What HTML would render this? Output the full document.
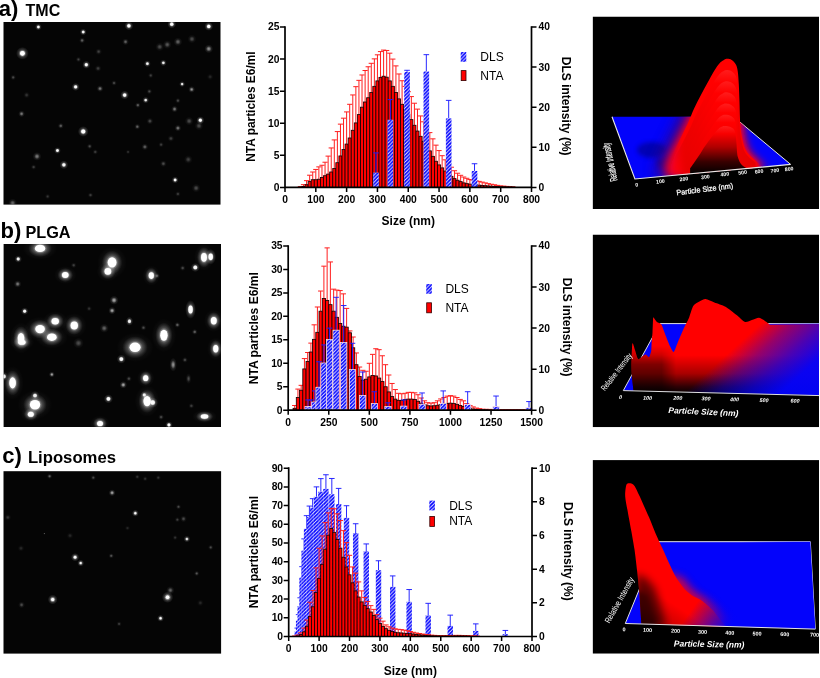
<!DOCTYPE html>
<html lang="en"><head><meta charset="utf-8"><title>NTA vs DLS particle sizing</title>
<style>html,body{margin:0;padding:0;background:#fff}body{width:820px;height:678px;overflow:hidden}</style>
</head><body>
<svg width="820" height="678" viewBox="0 0 820 678" style="display:block">
<defs>
<pattern id="hatch" patternUnits="userSpaceOnUse" width="3.6" height="3.6"><path d="M-0.9 0.9L0.9 -0.9M0 3.6L3.6 0M2.7 4.5L4.5 2.7" stroke="#0000ff" stroke-width="1.75" fill="none"/></pattern>
<radialGradient id="glow"><stop offset="0" stop-color="#fff" stop-opacity="1"/><stop offset="0.25" stop-color="#fff" stop-opacity="0.75"/><stop offset="0.6" stop-color="#fff" stop-opacity="0.18"/><stop offset="1" stop-color="#fff" stop-opacity="0"/></radialGradient>
<filter id="b1" x="-50%" y="-50%" width="200%" height="200%"><feGaussianBlur stdDeviation="0.45"/></filter>
<filter id="b2" x="-20%" y="-20%" width="140%" height="140%"><feGaussianBlur stdDeviation="2.2"/></filter>
<filter id="b3" x="-20%" y="-20%" width="140%" height="140%"><feGaussianBlur stdDeviation="4"/></filter>
<filter id="b05" x="-20%" y="-20%" width="140%" height="140%"><feGaussianBlur stdDeviation="0.5"/></filter>
<clipPath id="clip-a"><rect x="3.5" y="22" width="217" height="182.6"/></clipPath>
<clipPath id="clip-b"><rect x="3.6" y="244" width="217.4" height="183"/></clipPath>
<clipPath id="clip-c"><rect x="3.5" y="471.2" width="217.6" height="182.4"/></clipPath>
<clipPath id="clip-3a"><rect x="592.6" y="16.5" width="226.4" height="192.6"/></clipPath>
<clipPath id="clip-3b"><rect x="592.6" y="234.5" width="226.4" height="192.7"/></clipPath>
<clipPath id="clip-3c"><rect x="592.6" y="460.1" width="226.4" height="193.6"/></clipPath>
<linearGradient id="gA" gradientUnits="userSpaceOnUse" x1="0" y1="58" x2="0" y2="176"><stop offset="0" stop-color="#ff0000"/><stop offset="0.5" stop-color="#ff0000"/><stop offset="0.72" stop-color="#c00000"/><stop offset="0.9" stop-color="#400008"/><stop offset="1" stop-color="#080004"/></linearGradient>
<linearGradient id="gB" gradientUnits="userSpaceOnUse" x1="0" y1="300" x2="0" y2="392"><stop offset="0" stop-color="#ff0000"/><stop offset="0.6" stop-color="#ff0000"/><stop offset="0.8" stop-color="#a80000"/><stop offset="0.94" stop-color="#300004"/><stop offset="1" stop-color="#0c0002"/></linearGradient>
<linearGradient id="gC" gradientUnits="userSpaceOnUse" x1="0" y1="484" x2="0" y2="626"><stop offset="0" stop-color="#ff0000"/><stop offset="0.55" stop-color="#ff0000"/><stop offset="0.75" stop-color="#b00000"/><stop offset="0.9" stop-color="#400008"/><stop offset="1" stop-color="#080004"/></linearGradient>
<filter id="b7" x="-30%" y="-30%" width="160%" height="160%"><feGaussianBlur stdDeviation="7"/></filter>
<mask id="mA" maskUnits="userSpaceOnUse" x="592" y="16" width="228" height="194"><rect x="592" y="16" width="228" height="194" fill="#fff"/><path d="M630 116.7L677 116.7L678 152L682 172L684 185L630 185Z" fill="#000" filter="url(#b3)"/><path d="M752 140L760 172L800 172L800 140Z" fill="#000" filter="url(#b2)"/></mask>
<clipPath id="cpA2"><path d="M600 0H820V164.4L790.6 164.4L634.9 179L600 179Z"/></clipPath>
<linearGradient id="slM" x1="0" y1="0" x2="0" y2="1"><stop offset="0" stop-color="#ff1c1c"/><stop offset="0.12" stop-color="#ff0000"/><stop offset="0.5" stop-color="#f00000"/><stop offset="1" stop-color="#e20000"/></linearGradient>
<linearGradient id="slF" gradientUnits="userSpaceOnUse" x1="0" y1="125" x2="0" y2="174"><stop offset="0" stop-color="#ff2020"/><stop offset="0.18" stop-color="#f80000"/><stop offset="0.45" stop-color="#b00000"/><stop offset="0.75" stop-color="#380000"/><stop offset="1" stop-color="#000"/></linearGradient>
<clipPath id="cpA"><polygon points="612,116.7 733.5,116.7 790.6,164.4 634.9,179"/></clipPath>
<linearGradient id="ovB" gradientUnits="userSpaceOnUse" x1="725.5" y1="345.6" x2="773.9" y2="399.1"><stop offset="0" stop-color="#0303fb" stop-opacity="0"/><stop offset="0.1" stop-color="#0303fb" stop-opacity="0"/><stop offset="0.4" stop-color="#0303fb" stop-opacity="0.42"/><stop offset="0.7" stop-color="#0303fb" stop-opacity="0.72"/><stop offset="1" stop-color="#0303fb" stop-opacity="0.96"/></linearGradient>
<linearGradient id="dkB" gradientUnits="userSpaceOnUse" x1="0" y1="346" x2="0" y2="392"><stop offset="0" stop-color="#000" stop-opacity="0"/><stop offset="0.4" stop-color="#000" stop-opacity="0.4"/><stop offset="1" stop-color="#000" stop-opacity="0.5"/></linearGradient>
<linearGradient id="dkBm" gradientUnits="userSpaceOnUse" x1="640" y1="0" x2="676" y2="0"><stop offset="0" stop-color="#fff"/><stop offset="0.6" stop-color="#fff"/><stop offset="1" stop-color="#000"/></linearGradient>
<mask id="mkB" maskUnits="userSpaceOnUse" x="620" y="300" width="70" height="100"><rect x="620" y="300" width="70" height="100" fill="url(#dkBm)"/></mask>
<linearGradient id="gC2" gradientUnits="userSpaceOnUse" x1="690" y1="550" x2="640" y2="625"><stop offset="0" stop-color="#ff0000"/><stop offset="0.6" stop-color="#ff0000"/><stop offset="0.8" stop-color="#d00000"/><stop offset="1" stop-color="#800000"/></linearGradient>
<linearGradient id="ovC" gradientUnits="userSpaceOnUse" x1="678" y1="590" x2="730" y2="628"><stop offset="0" stop-color="#0303fb" stop-opacity="0"/><stop offset="0.35" stop-color="#0303fb" stop-opacity="0"/><stop offset="0.75" stop-color="#0303fb" stop-opacity="0.65"/><stop offset="1" stop-color="#0303fb" stop-opacity="1"/></linearGradient>
<clipPath id="cpC"><polygon points="658.8,541.7 810.3,541.7 815.3,629.1 625.3,623.5"/></clipPath>
</defs>
<rect width="820" height="678" fill="#fff"/>
<g font-family="Liberation Sans, Arial, sans-serif" font-weight="bold" fill="#000">
<text x="-1.2" y="15.6" font-size="22">a)</text><text x="25.6" y="15.6" font-size="16">TMC</text>
<text x="0.6" y="237.6" font-size="22">b)</text><text x="25.4" y="237.6" font-size="16.3">PLGA</text>
<text x="2.2" y="463" font-size="22">c)</text><text x="27.9" y="463" font-size="16.7">Liposomes</text>
</g>
<g id="micro-a">
<rect x="3.5" y="22" width="217" height="182.6" fill="#050505"/>
<g clip-path="url(#clip-a)">
<ellipse cx="38.39" cy="26.97" rx="3.4" ry="3.4" fill="url(#glow)" opacity="0.9"/>
<ellipse cx="38.39" cy="26.97" rx="1.2" ry="1.2" fill="#fff" opacity="0.9" filter="url(#b1)"/>
<ellipse cx="83.22" cy="32.01" rx="3.4" ry="3.4" fill="url(#glow)" opacity="0.9"/>
<ellipse cx="83.22" cy="32.01" rx="1.2" ry="1.2" fill="#fff" opacity="0.9" filter="url(#b1)"/>
<ellipse cx="128.89" cy="25.85" rx="4.4" ry="4.4" fill="url(#glow)" opacity="1"/>
<ellipse cx="128.89" cy="25.85" rx="1.6" ry="1.6" fill="#fff" opacity="1" filter="url(#b1)"/>
<ellipse cx="171.76" cy="24.16" rx="4.4" ry="4.4" fill="url(#glow)" opacity="1"/>
<ellipse cx="171.76" cy="24.16" rx="1.6" ry="1.6" fill="#fff" opacity="1" filter="url(#b1)"/>
<ellipse cx="208.74" cy="26.41" rx="4.4" ry="4.4" fill="url(#glow)" opacity="1"/>
<ellipse cx="208.74" cy="26.41" rx="1.6" ry="1.6" fill="#fff" opacity="1" filter="url(#b1)"/>
<ellipse cx="22.42" cy="53.3" rx="6.4" ry="6.4" fill="url(#glow)" opacity="1"/>
<ellipse cx="22.42" cy="53.3" rx="2.4" ry="2.4" fill="#fff" opacity="1" filter="url(#b1)"/>
<ellipse cx="86.3" cy="64.79" rx="4" ry="4" fill="url(#glow)" opacity="1"/>
<ellipse cx="86.3" cy="64.79" rx="1.44" ry="1.44" fill="#fff" opacity="1" filter="url(#b1)"/>
<ellipse cx="147.38" cy="63.67" rx="3.4" ry="3.4" fill="url(#glow)" opacity="0.9"/>
<ellipse cx="147.38" cy="63.67" rx="1.2" ry="1.2" fill="#fff" opacity="0.9" filter="url(#b1)"/>
<ellipse cx="163.35" cy="62.83" rx="3.4" ry="3.4" fill="url(#glow)" opacity="0.8"/>
<ellipse cx="163.35" cy="62.83" rx="1.2" ry="1.2" fill="#fff" opacity="0.8" filter="url(#b1)"/>
<ellipse cx="75.65" cy="86.93" rx="4" ry="4" fill="url(#glow)" opacity="1"/>
<ellipse cx="75.65" cy="86.93" rx="1.44" ry="1.44" fill="#fff" opacity="1" filter="url(#b1)"/>
<ellipse cx="124.68" cy="95.05" rx="4.4" ry="4.4" fill="url(#glow)" opacity="1"/>
<ellipse cx="124.68" cy="95.05" rx="1.6" ry="1.6" fill="#fff" opacity="1" filter="url(#b1)"/>
<ellipse cx="145.7" cy="100.1" rx="3.4" ry="3.4" fill="url(#glow)" opacity="0.8"/>
<ellipse cx="145.7" cy="100.1" rx="1.2" ry="1.2" fill="#fff" opacity="0.8" filter="url(#b1)"/>
<ellipse cx="182.12" cy="84.12" rx="3" ry="3" fill="url(#glow)" opacity="0.8"/>
<ellipse cx="182.12" cy="84.12" rx="1.04" ry="1.04" fill="#fff" opacity="0.8" filter="url(#b1)"/>
<ellipse cx="191.65" cy="89.45" rx="3.4" ry="3.4" fill="url(#glow)" opacity="0.6"/>
<ellipse cx="200.34" cy="120.27" rx="4" ry="4" fill="url(#glow)" opacity="1"/>
<ellipse cx="200.34" cy="120.27" rx="1.44" ry="1.44" fill="#fff" opacity="1" filter="url(#b1)"/>
<ellipse cx="83.22" cy="131.48" rx="5.4" ry="5.4" fill="url(#glow)" opacity="1"/>
<ellipse cx="83.22" cy="131.48" rx="2" ry="2" fill="#fff" opacity="1" filter="url(#b1)"/>
<ellipse cx="57.44" cy="150.53" rx="3.4" ry="3.4" fill="url(#glow)" opacity="1"/>
<ellipse cx="57.44" cy="150.53" rx="1.2" ry="1.2" fill="#fff" opacity="1" filter="url(#b1)"/>
<ellipse cx="63.88" cy="164.82" rx="4.4" ry="4.4" fill="url(#glow)" opacity="0.9"/>
<ellipse cx="63.88" cy="164.82" rx="1.6" ry="1.6" fill="#fff" opacity="0.9" filter="url(#b1)"/>
<ellipse cx="175.12" cy="179.95" rx="3.4" ry="3.4" fill="url(#glow)" opacity="1"/>
<ellipse cx="175.12" cy="179.95" rx="1.2" ry="1.2" fill="#fff" opacity="1" filter="url(#b1)"/>
<ellipse cx="36.99" cy="156.41" rx="4.4" ry="4.4" fill="url(#glow)" opacity="0.5"/>
<ellipse cx="21.57" cy="113.83" rx="3.4" ry="3.4" fill="url(#glow)" opacity="0.5"/>
<ellipse cx="208.74" cy="48.82" rx="4.4" ry="4.4" fill="url(#glow)" opacity="0.6"/>
<ellipse cx="177.92" cy="41.82" rx="4.4" ry="4.4" fill="url(#glow)" opacity="0.4"/>
<ellipse cx="167.27" cy="44.62" rx="4.4" ry="4.4" fill="url(#glow)" opacity="0.35"/>
<ellipse cx="159.71" cy="46.86" rx="4.4" ry="4.4" fill="url(#glow)" opacity="0.3"/>
<ellipse cx="191.93" cy="39.01" rx="4.4" ry="4.4" fill="url(#glow)" opacity="0.3"/>
<ellipse cx="125.53" cy="41.82" rx="3.4" ry="3.4" fill="url(#glow)" opacity="0.4"/>
<ellipse cx="82.1" cy="40.42" rx="3" ry="3" fill="url(#glow)" opacity="0.4"/>
<ellipse cx="98.63" cy="51.62" rx="3.4" ry="3.4" fill="url(#glow)" opacity="0.25"/>
<ellipse cx="98.07" cy="68.43" rx="3.4" ry="3.4" fill="url(#glow)" opacity="0.25"/>
<ellipse cx="78.45" cy="59.47" rx="2.8" ry="2.8" fill="url(#glow)" opacity="0.25"/>
<ellipse cx="100.03" cy="88.61" rx="3.4" ry="3.4" fill="url(#glow)" opacity="0.5"/>
<ellipse cx="114.04" cy="83" rx="2.8" ry="2.8" fill="url(#glow)" opacity="0.3"/>
<ellipse cx="149.34" cy="91.41" rx="2.8" ry="2.8" fill="url(#glow)" opacity="0.3"/>
<ellipse cx="150.74" cy="75.44" rx="2.8" ry="2.8" fill="url(#glow)" opacity="0.25"/>
<ellipse cx="137.85" cy="105.14" rx="2.8" ry="2.8" fill="url(#glow)" opacity="0.4"/>
<ellipse cx="174.56" cy="109.06" rx="3.4" ry="3.4" fill="url(#glow)" opacity="0.5"/>
<ellipse cx="177.92" cy="100.66" rx="2.8" ry="2.8" fill="url(#glow)" opacity="0.3"/>
<ellipse cx="149.9" cy="121.11" rx="3.4" ry="3.4" fill="url(#glow)" opacity="0.3"/>
<ellipse cx="137.29" cy="126.71" rx="3" ry="3" fill="url(#glow)" opacity="0.4"/>
<ellipse cx="177.92" cy="128.11" rx="3.4" ry="3.4" fill="url(#glow)" opacity="0.5"/>
<ellipse cx="189.13" cy="121.11" rx="4.4" ry="4.4" fill="url(#glow)" opacity="0.3"/>
<ellipse cx="198.94" cy="125.87" rx="4.4" ry="4.4" fill="url(#glow)" opacity="0.3"/>
<ellipse cx="170.92" cy="138.48" rx="3.4" ry="3.4" fill="url(#glow)" opacity="0.25"/>
<ellipse cx="144.86" cy="146.89" rx="3.4" ry="3.4" fill="url(#glow)" opacity="0.4"/>
<ellipse cx="161.11" cy="144.65" rx="2.8" ry="2.8" fill="url(#glow)" opacity="0.25"/>
<ellipse cx="163.35" cy="163.7" rx="3.4" ry="3.4" fill="url(#glow)" opacity="0.3"/>
<ellipse cx="188.29" cy="159.5" rx="4.4" ry="4.4" fill="url(#glow)" opacity="0.25"/>
<ellipse cx="196.13" cy="188.08" rx="4.4" ry="4.4" fill="url(#glow)" opacity="0.3"/>
<ellipse cx="177.92" cy="193.96" rx="2.8" ry="2.8" fill="url(#glow)" opacity="0.25"/>
<ellipse cx="60.8" cy="125.87" rx="3" ry="3" fill="url(#glow)" opacity="0.4"/>
<ellipse cx="89.66" cy="146.33" rx="2.8" ry="2.8" fill="url(#glow)" opacity="0.3"/>
<ellipse cx="95.26" cy="151.93" rx="2.8" ry="2.8" fill="url(#glow)" opacity="0.25"/>
<ellipse cx="128.05" cy="151.93" rx="2.4" ry="2.4" fill="url(#glow)" opacity="0.2"/>
<ellipse cx="33.62" cy="167.06" rx="2.8" ry="2.8" fill="url(#glow)" opacity="0.25"/>
<ellipse cx="13.17" cy="77.4" rx="2.8" ry="2.8" fill="url(#glow)" opacity="0.3"/>
<ellipse cx="26.62" cy="95.05" rx="3.4" ry="3.4" fill="url(#glow)" opacity="0.2"/>
<ellipse cx="90.5" cy="195.08" rx="2.8" ry="2.8" fill="url(#glow)" opacity="0.25"/>
<ellipse cx="47.63" cy="196.48" rx="2.8" ry="2.8" fill="url(#glow)" opacity="0.2"/>
<ellipse cx="12.61" cy="202.93" rx="4.4" ry="4.4" fill="url(#glow)" opacity="0.4"/>
<ellipse cx="210.14" cy="76.84" rx="3.4" ry="3.4" fill="url(#glow)" opacity="0.15"/>
</g></g>
<g id="micro-b">
<rect x="3.6" y="244" width="217.4" height="183" fill="#050505"/>
<g clip-path="url(#clip-b)">
<ellipse cx="40.07" cy="248.41" rx="17.26" ry="11.21" fill="url(#glow)" opacity="0.25"/>
<ellipse cx="40.07" cy="248.41" rx="11.88" ry="8.63" fill="url(#glow)" opacity="1"/>
<ellipse cx="40.07" cy="248.41" rx="5.18" ry="3.7" fill="#fff" opacity="1" filter="url(#b1)"/>
<ellipse cx="18.21" cy="259.05" rx="3.75" ry="3.75" fill="url(#glow)" opacity="0.8"/>
<ellipse cx="18.21" cy="259.05" rx="1.48" ry="1.48" fill="#fff" opacity="0.8" filter="url(#b1)"/>
<ellipse cx="17.65" cy="283.99" rx="3.75" ry="3.75" fill="url(#glow)" opacity="0.5"/>
<ellipse cx="65.28" cy="275.02" rx="11.1" ry="8.97" fill="url(#glow)" opacity="0.25"/>
<ellipse cx="65.28" cy="275.02" rx="7.81" ry="7" fill="url(#glow)" opacity="1"/>
<ellipse cx="65.28" cy="275.02" rx="3.33" ry="2.96" fill="#fff" opacity="1" filter="url(#b1)"/>
<ellipse cx="112.08" cy="262.42" rx="14.79" ry="15.69" fill="url(#glow)" opacity="0.25"/>
<ellipse cx="112.08" cy="262.42" rx="10.25" ry="11.88" fill="url(#glow)" opacity="1"/>
<ellipse cx="112.08" cy="262.42" rx="4.44" ry="5.18" fill="#fff" opacity="1" filter="url(#b1)"/>
<ellipse cx="107.87" cy="271.38" rx="11.1" ry="10.09" fill="url(#glow)" opacity="0.25"/>
<ellipse cx="107.87" cy="271.38" rx="7.81" ry="7.81" fill="url(#glow)" opacity="1"/>
<ellipse cx="107.87" cy="271.38" rx="3.33" ry="3.33" fill="#fff" opacity="1" filter="url(#b1)"/>
<ellipse cx="151.3" cy="275.58" rx="8.63" ry="10.09" fill="url(#glow)" opacity="0.25"/>
<ellipse cx="151.3" cy="275.58" rx="6.19" ry="7.81" fill="url(#glow)" opacity="1"/>
<ellipse cx="151.3" cy="275.58" rx="2.59" ry="3.33" fill="#fff" opacity="1" filter="url(#b1)"/>
<ellipse cx="203.98" cy="257.37" rx="9.86" ry="13.45" fill="url(#glow)" opacity="0.25"/>
<ellipse cx="203.98" cy="257.37" rx="7" ry="10.25" fill="url(#glow)" opacity="1"/>
<ellipse cx="203.98" cy="257.37" rx="2.96" ry="4.44" fill="#fff" opacity="1" filter="url(#b1)"/>
<ellipse cx="210.7" cy="256.81" rx="5.38" ry="7.81" fill="url(#glow)" opacity="1"/>
<ellipse cx="210.7" cy="256.81" rx="2.22" ry="3.33" fill="#fff" opacity="1" filter="url(#b1)"/>
<ellipse cx="195.29" cy="267.46" rx="4.56" ry="4.56" fill="url(#glow)" opacity="0.9"/>
<ellipse cx="195.29" cy="267.46" rx="1.85" ry="1.85" fill="#fff" opacity="0.9" filter="url(#b1)"/>
<ellipse cx="114.04" cy="300.24" rx="4.56" ry="4.56" fill="url(#glow)" opacity="0.7"/>
<ellipse cx="112.08" cy="310.61" rx="3.75" ry="3.75" fill="url(#glow)" opacity="0.7"/>
<ellipse cx="24.66" cy="311.17" rx="3.75" ry="3.75" fill="url(#glow)" opacity="0.9"/>
<ellipse cx="24.66" cy="311.17" rx="1.48" ry="1.48" fill="#fff" opacity="0.9" filter="url(#b1)"/>
<ellipse cx="55.2" cy="321.26" rx="12.33" ry="10.09" fill="url(#glow)" opacity="0.25"/>
<ellipse cx="55.2" cy="321.26" rx="8.63" ry="7.81" fill="url(#glow)" opacity="1"/>
<ellipse cx="55.2" cy="321.26" rx="3.7" ry="3.33" fill="#fff" opacity="1" filter="url(#b1)"/>
<ellipse cx="74.25" cy="325.46" rx="12.33" ry="12.33" fill="url(#glow)" opacity="0.25"/>
<ellipse cx="74.25" cy="325.46" rx="8.63" ry="9.44" fill="url(#glow)" opacity="1"/>
<ellipse cx="74.25" cy="325.46" rx="3.7" ry="4.07" fill="#fff" opacity="1" filter="url(#b1)"/>
<ellipse cx="40.07" cy="329.1" rx="16.03" ry="12.33" fill="url(#glow)" opacity="0.25"/>
<ellipse cx="40.07" cy="329.1" rx="11.06" ry="9.44" fill="url(#glow)" opacity="1"/>
<ellipse cx="40.07" cy="329.1" rx="4.81" ry="4.07" fill="#fff" opacity="1" filter="url(#b1)"/>
<ellipse cx="51.84" cy="337.23" rx="16.03" ry="11.21" fill="url(#glow)" opacity="0.25"/>
<ellipse cx="51.84" cy="337.23" rx="11.06" ry="8.63" fill="url(#glow)" opacity="1"/>
<ellipse cx="51.84" cy="337.23" rx="4.81" ry="3.7" fill="#fff" opacity="1" filter="url(#b1)"/>
<ellipse cx="21.01" cy="338.07" rx="11.1" ry="15.69" fill="url(#glow)" opacity="0.25"/>
<ellipse cx="21.01" cy="338.07" rx="7.81" ry="11.88" fill="url(#glow)" opacity="1"/>
<ellipse cx="21.01" cy="338.07" rx="3.33" ry="5.18" fill="#fff" opacity="1" filter="url(#b1)"/>
<ellipse cx="21.85" cy="342.27" rx="12.33" ry="7.85" fill="url(#glow)" opacity="0.25"/>
<ellipse cx="21.85" cy="342.27" rx="8.63" ry="6.19" fill="url(#glow)" opacity="1"/>
<ellipse cx="21.85" cy="342.27" rx="3.7" ry="2.59" fill="#fff" opacity="1" filter="url(#b1)"/>
<ellipse cx="104.23" cy="328.26" rx="4.56" ry="4.56" fill="url(#glow)" opacity="0.4"/>
<ellipse cx="78.45" cy="343.11" rx="5.38" ry="5.38" fill="url(#glow)" opacity="0.3"/>
<ellipse cx="129.45" cy="321.26" rx="3.75" ry="4.56" fill="url(#glow)" opacity="0.8"/>
<ellipse cx="129.45" cy="321.26" rx="1.48" ry="1.85" fill="#fff" opacity="0.8" filter="url(#b1)"/>
<ellipse cx="135.05" cy="347.31" rx="18.49" ry="14.57" fill="url(#glow)" opacity="0.25"/>
<ellipse cx="135.05" cy="347.31" rx="12.69" ry="11.06" fill="url(#glow)" opacity="1"/>
<ellipse cx="135.05" cy="347.31" rx="5.55" ry="4.81" fill="#fff" opacity="1" filter="url(#b1)"/>
<ellipse cx="163.91" cy="335.26" rx="12.33" ry="16.81" fill="url(#glow)" opacity="0.25"/>
<ellipse cx="163.91" cy="335.26" rx="8.63" ry="12.69" fill="url(#glow)" opacity="1"/>
<ellipse cx="163.91" cy="335.26" rx="3.7" ry="5.55" fill="#fff" opacity="1" filter="url(#b1)"/>
<ellipse cx="190.53" cy="309.49" rx="5.38" ry="9.44" fill="url(#glow)" opacity="1"/>
<ellipse cx="190.53" cy="309.49" rx="2.22" ry="4.07" fill="#fff" opacity="1" filter="url(#b1)"/>
<ellipse cx="213.79" cy="320.69" rx="9.86" ry="11.21" fill="url(#glow)" opacity="0.25"/>
<ellipse cx="213.79" cy="320.69" rx="7" ry="8.63" fill="url(#glow)" opacity="1"/>
<ellipse cx="213.79" cy="320.69" rx="2.96" ry="3.7" fill="#fff" opacity="1" filter="url(#b1)"/>
<ellipse cx="215.75" cy="348.71" rx="8.63" ry="11.21" fill="url(#glow)" opacity="0.25"/>
<ellipse cx="215.75" cy="348.71" rx="6.19" ry="8.63" fill="url(#glow)" opacity="1"/>
<ellipse cx="215.75" cy="348.71" rx="2.59" ry="3.7" fill="#fff" opacity="1" filter="url(#b1)"/>
<ellipse cx="177.36" cy="324.9" rx="2.94" ry="2.94" fill="url(#glow)" opacity="0.4"/>
<ellipse cx="194.73" cy="331.9" rx="2.94" ry="2.94" fill="url(#glow)" opacity="0.4"/>
<ellipse cx="121.32" cy="359.08" rx="4.56" ry="4.56" fill="url(#glow)" opacity="0.9"/>
<ellipse cx="121.32" cy="359.08" rx="1.85" ry="1.85" fill="#fff" opacity="0.9" filter="url(#b1)"/>
<ellipse cx="173.16" cy="364.68" rx="3.75" ry="7" fill="url(#glow)" opacity="0.6"/>
<ellipse cx="145.7" cy="378.13" rx="8.63" ry="8.97" fill="url(#glow)" opacity="0.25"/>
<ellipse cx="145.7" cy="378.13" rx="6.19" ry="7" fill="url(#glow)" opacity="1"/>
<ellipse cx="145.7" cy="378.13" rx="2.59" ry="2.96" fill="#fff" opacity="1" filter="url(#b1)"/>
<ellipse cx="123.28" cy="384.86" rx="3.75" ry="3.75" fill="url(#glow)" opacity="0.7"/>
<ellipse cx="51.84" cy="374.49" rx="2.94" ry="2.94" fill="url(#glow)" opacity="0.7"/>
<ellipse cx="12.61" cy="382.9" rx="11.1" ry="16.81" fill="url(#glow)" opacity="0.25"/>
<ellipse cx="12.61" cy="382.9" rx="7.81" ry="12.69" fill="url(#glow)" opacity="1"/>
<ellipse cx="12.61" cy="382.9" rx="3.33" ry="5.55" fill="#fff" opacity="1" filter="url(#b1)"/>
<ellipse cx="188.57" cy="378.69" rx="2.94" ry="5.38" fill="url(#glow)" opacity="0.3"/>
<ellipse cx="35.02" cy="395.51" rx="4.56" ry="4.56" fill="url(#glow)" opacity="0.8"/>
<ellipse cx="35.02" cy="395.51" rx="1.85" ry="1.85" fill="#fff" opacity="0.8" filter="url(#b1)"/>
<ellipse cx="35.02" cy="404.75" rx="17.26" ry="14.57" fill="url(#glow)" opacity="0.25"/>
<ellipse cx="35.02" cy="404.75" rx="11.88" ry="11.06" fill="url(#glow)" opacity="1"/>
<ellipse cx="35.02" cy="404.75" rx="5.18" ry="4.81" fill="#fff" opacity="1" filter="url(#b1)"/>
<ellipse cx="30.82" cy="414.28" rx="9.86" ry="7.85" fill="url(#glow)" opacity="0.25"/>
<ellipse cx="30.82" cy="414.28" rx="7" ry="6.19" fill="url(#glow)" opacity="1"/>
<ellipse cx="30.82" cy="414.28" rx="2.96" ry="2.59" fill="#fff" opacity="1" filter="url(#b1)"/>
<ellipse cx="108.43" cy="398.87" rx="4.56" ry="4.56" fill="url(#glow)" opacity="0.9"/>
<ellipse cx="108.43" cy="398.87" rx="1.85" ry="1.85" fill="#fff" opacity="0.9" filter="url(#b1)"/>
<ellipse cx="147.1" cy="401.11" rx="12.33" ry="15.69" fill="url(#glow)" opacity="0.25"/>
<ellipse cx="147.1" cy="401.11" rx="8.63" ry="11.88" fill="url(#glow)" opacity="1"/>
<ellipse cx="147.1" cy="401.11" rx="3.7" ry="5.18" fill="#fff" opacity="1" filter="url(#b1)"/>
<ellipse cx="152.7" cy="402.51" rx="5.38" ry="5.38" fill="url(#glow)" opacity="0.9"/>
<ellipse cx="152.7" cy="402.51" rx="2.22" ry="2.22" fill="#fff" opacity="0.9" filter="url(#b1)"/>
<ellipse cx="144.3" cy="394.95" rx="3.75" ry="3.75" fill="url(#glow)" opacity="0.8"/>
<ellipse cx="144.3" cy="394.95" rx="1.48" ry="1.48" fill="#fff" opacity="0.8" filter="url(#b1)"/>
<ellipse cx="204.54" cy="416.52" rx="12.33" ry="6.72" fill="url(#glow)" opacity="0.25"/>
<ellipse cx="204.54" cy="416.52" rx="8.63" ry="5.38" fill="url(#glow)" opacity="1"/>
<ellipse cx="204.54" cy="416.52" rx="3.7" ry="2.22" fill="#fff" opacity="1" filter="url(#b1)"/>
<ellipse cx="100.03" cy="423.52" rx="9.86" ry="7.85" fill="url(#glow)" opacity="0.25"/>
<ellipse cx="100.03" cy="423.52" rx="7" ry="6.19" fill="url(#glow)" opacity="1"/>
<ellipse cx="100.03" cy="423.52" rx="2.96" ry="2.59" fill="#fff" opacity="1" filter="url(#b1)"/>
<ellipse cx="168.95" cy="424.93" rx="3.75" ry="3.75" fill="url(#glow)" opacity="0.9"/>
<ellipse cx="168.95" cy="424.93" rx="1.48" ry="1.48" fill="#fff" opacity="0.9" filter="url(#b1)"/>
<ellipse cx="161.11" cy="417.08" rx="2.94" ry="2.94" fill="url(#glow)" opacity="0.3"/>
<ellipse cx="191.37" cy="405.87" rx="2.94" ry="2.94" fill="url(#glow)" opacity="0.25"/>
<ellipse cx="4.2" cy="376.45" rx="3.75" ry="4.56" fill="url(#glow)" opacity="0.8"/>
<ellipse cx="4.2" cy="376.45" rx="1.48" ry="1.85" fill="#fff" opacity="0.8" filter="url(#b1)"/>
<ellipse cx="184.93" cy="359.92" rx="2.94" ry="2.94" fill="url(#glow)" opacity="0.3"/>
<ellipse cx="143.46" cy="327.7" rx="2.94" ry="2.94" fill="url(#glow)" opacity="0.3"/>
<ellipse cx="156.91" cy="275.86" rx="2.94" ry="2.94" fill="url(#glow)" opacity="0.4"/>
<ellipse cx="73.69" cy="265.22" rx="2.94" ry="2.94" fill="url(#glow)" opacity="0.25"/>
<ellipse cx="182.68" cy="268.02" rx="2.94" ry="2.94" fill="url(#glow)" opacity="0.3"/>
<ellipse cx="128.89" cy="378.69" rx="2.94" ry="2.94" fill="url(#glow)" opacity="0.3"/>
<ellipse cx="89.1" cy="308.65" rx="2.94" ry="2.94" fill="url(#glow)" opacity="0.2"/>
</g></g>
<g id="micro-c">
<rect x="3.5" y="471.2" width="217.6" height="182.4" fill="#050505"/>
<g clip-path="url(#clip-c)">
<ellipse cx="49.59" cy="476.25" rx="2.67" ry="2.67" fill="url(#glow)" opacity="0.4"/>
<ellipse cx="93.3" cy="477.65" rx="2.67" ry="2.67" fill="url(#glow)" opacity="0.3"/>
<ellipse cx="112.08" cy="492.78" rx="3.43" ry="3.43" fill="url(#glow)" opacity="0.7"/>
<ellipse cx="135.33" cy="513.23" rx="3.43" ry="3.43" fill="url(#glow)" opacity="1"/>
<ellipse cx="135.33" cy="513.23" rx="1.01" ry="1.01" fill="#fff" opacity="1" filter="url(#b1)"/>
<ellipse cx="178.48" cy="506.79" rx="2.67" ry="2.67" fill="url(#glow)" opacity="0.3"/>
<ellipse cx="183.52" cy="518.84" rx="3.43" ry="3.43" fill="url(#glow)" opacity="0.3"/>
<ellipse cx="177.36" cy="519.68" rx="2.67" ry="2.67" fill="url(#glow)" opacity="0.25"/>
<ellipse cx="186.89" cy="539.01" rx="3.43" ry="3.43" fill="url(#glow)" opacity="0.8"/>
<ellipse cx="186.89" cy="539.01" rx="1.01" ry="1.01" fill="#fff" opacity="0.8" filter="url(#b1)"/>
<ellipse cx="210.7" cy="547.41" rx="2.67" ry="2.67" fill="url(#glow)" opacity="0.3"/>
<ellipse cx="75.09" cy="557.22" rx="4.18" ry="4.18" fill="url(#glow)" opacity="1"/>
<ellipse cx="75.09" cy="557.22" rx="1.26" ry="1.26" fill="#fff" opacity="1" filter="url(#b1)"/>
<ellipse cx="80.69" cy="563.11" rx="3.43" ry="3.43" fill="url(#glow)" opacity="0.9"/>
<ellipse cx="80.69" cy="563.11" rx="1.01" ry="1.01" fill="#fff" opacity="0.9" filter="url(#b1)"/>
<ellipse cx="111.24" cy="555.82" rx="2.67" ry="2.67" fill="url(#glow)" opacity="0.35"/>
<ellipse cx="196.69" cy="573.47" rx="2.67" ry="2.67" fill="url(#glow)" opacity="0.35"/>
<ellipse cx="52.68" cy="599.53" rx="4.94" ry="4.94" fill="url(#glow)" opacity="1"/>
<ellipse cx="52.68" cy="599.53" rx="1.51" ry="1.51" fill="#fff" opacity="1" filter="url(#b1)"/>
<ellipse cx="21.57" cy="604.85" rx="3.43" ry="3.43" fill="url(#glow)" opacity="0.3"/>
<ellipse cx="167.55" cy="597.29" rx="5.7" ry="5.7" fill="url(#glow)" opacity="1"/>
<ellipse cx="167.55" cy="597.29" rx="1.77" ry="1.77" fill="#fff" opacity="1" filter="url(#b1)"/>
<ellipse cx="170.36" cy="590.28" rx="4.18" ry="4.18" fill="url(#glow)" opacity="0.4"/>
<ellipse cx="160.55" cy="618.3" rx="3.43" ry="3.43" fill="url(#glow)" opacity="1"/>
<ellipse cx="160.55" cy="618.3" rx="1.01" ry="1.01" fill="#fff" opacity="1" filter="url(#b1)"/>
<ellipse cx="119.08" cy="623.91" rx="2.67" ry="2.67" fill="url(#glow)" opacity="0.25"/>
<ellipse cx="7.85" cy="517.43" rx="3.43" ry="3.43" fill="url(#glow)" opacity="0.2"/>
<ellipse cx="21.01" cy="548.26" rx="3.43" ry="3.43" fill="url(#glow)" opacity="0.15"/>
<ellipse cx="70.05" cy="535.65" rx="3.43" ry="3.43" fill="url(#glow)" opacity="0.15"/>
<ellipse cx="137.29" cy="476.81" rx="2.67" ry="2.67" fill="url(#glow)" opacity="0.2"/>
<ellipse cx="145.14" cy="478.77" rx="2.67" ry="2.67" fill="url(#glow)" opacity="0.2"/>
<ellipse cx="158.31" cy="477.65" rx="2.67" ry="2.67" fill="url(#glow)" opacity="0.2"/>
<ellipse cx="127.49" cy="528.08" rx="2.67" ry="2.67" fill="url(#glow)" opacity="0.15"/>
<ellipse cx="175.12" cy="537.61" rx="2.67" ry="2.67" fill="url(#glow)" opacity="0.2"/>
<ellipse cx="200.34" cy="602.89" rx="3.43" ry="3.43" fill="url(#glow)" opacity="0.15"/>
<ellipse cx="44.27" cy="533.69" rx="1.16" ry="1.16" fill="url(#glow)" opacity="0.4"/>
</g></g>
<g id="chart-a">
<g>
<path d="M300.41 187.08V186.6M297.81 186.6H303.01M303.49 186.53V184.67M300.89 184.67H306.09M306.57 184.71V180.66M303.97 180.66H309.17M309.65 181.59V175.21M307.05 175.21H312.25M312.73 179.73V172M310.13 172H315.33M315.81 179.73V169.44M313.21 169.44H318.41M318.89 179.25V166.87M316.29 166.87H321.49M321.98 177.46V165.26M319.38 165.26H324.58M325.06 175.72V162.22M322.46 162.22H327.66M328.14 174.12V156.12M325.54 156.12H330.74M331.22 172V147.94M328.62 147.94H333.82M334.3 168.47V139.92M331.7 139.92H336.9M337.38 162.7V131.58M334.78 131.58H339.98M340.46 155.96V124.13M337.86 124.13H343.06M343.54 149.55V118.18M340.94 118.18H346.14M346.62 144.09V111.92M344.02 111.92H349.23M349.71 138V104.31M347.11 104.31H352.31M352.79 130.3V94.95M350.19 94.95H355.39M355.87 122.92V86.67M353.27 86.67H358.47M358.95 114.58V80.35M356.35 80.35H361.55M362.03 107.2V74.98M359.43 74.98H364.63M365.11 102.01V70.5M362.51 70.5H367.71M368.19 97.74V66.78M365.59 66.78H370.79M371.27 92.44V63.31M368.67 63.31H373.88M374.36 86.35V58.87M371.76 58.87H376.96M377.44 80.89V54.82M374.84 54.82H380.04M380.52 77.37V51.59M377.92 51.59H383.12M383.6 76.24V50.1M381 50.1H386.2M386.68 77.21V50.48M384.08 50.48H389.28M389.76 80.89V53.18M387.16 53.18H392.36M392.84 86.35V59.08M390.24 59.08H395.44M395.93 92.44V65.88M393.32 65.88H398.53M399.01 98.86V73.97M396.41 73.97H401.61M402.09 104.31V80.74M399.49 80.74H404.69M405.17 109.12V86.4M402.57 86.4H407.77M408.25 114.33V91.69M405.65 91.69H410.85M411.33 119.62V96.59M408.73 96.59H413.93M414.41 125.29V103.22M411.81 103.22H417.01M417.49 131.07V109.12M414.89 109.12H420.09M420.57 136.33V115.94M417.97 115.94H423.18M423.66 141.3V121.8M421.06 121.8H426.26M426.74 146.13V127.21M424.14 127.21H429.34M429.82 150.86V132.62M427.22 132.62H432.42M432.9 156.36V138.85M430.3 138.85H435.5M435.98 161.27V145.15M433.38 145.15H438.58M439.06 164.91V150.57M436.46 150.57H441.66M442.14 167.89V155.7M439.54 155.7H444.74M445.23 171.04V159.83M442.62 159.83H447.83M448.31 173.87V163.52M445.71 163.52H450.91M451.39 176.31V167.22M448.79 167.22H453.99M454.47 178.63V170.72M451.87 170.72H457.07M457.55 180.25V173.22M454.95 173.22H460.15M460.63 181.61V175.31M458.03 175.31H463.23M463.71 182.88V177.03M461.11 177.03H466.31M466.79 183.65V178.29M464.19 178.29H469.39M469.88 184.13V179.56M467.27 179.56H472.48M472.96 184.47V180.16M470.36 180.16H475.56M476.04 184.81V180.77M473.44 180.77H478.64M479.12 185.15V181.38M476.52 181.38H481.72M482.2 185.42V182.12M479.6 182.12H484.8M485.28 185.68V182.89M482.68 182.89H487.88M488.36 185.93V183.67M485.76 183.67H490.96M491.44 186.18V184.25M488.84 184.25H494.04M494.52 186.44V184.81M491.92 184.81H497.12M497.61 186.57V185.36M495.01 185.36H500.21M500.69 186.69V185.92M498.09 185.92H503.29M503.77 186.82V186.16M501.17 186.16H506.37M506.85 186.95V186.41M504.25 186.41H509.45M509.93 187.03V186.65M507.33 186.65H512.53M510.41 186.89H515.61" fill="none" stroke="#ff1e1e" stroke-width="1"/>
<rect x="298.87" y="187.08" width="3.08" height="0.32" fill="#ff0000" stroke="#1a0000" stroke-width="0.85"/>
<rect x="301.95" y="186.53" width="3.08" height="0.87" fill="#ff0000" stroke="#1a0000" stroke-width="0.85"/>
<rect x="305.03" y="184.71" width="3.08" height="2.69" fill="#ff0000" stroke="#1a0000" stroke-width="0.85"/>
<rect x="308.11" y="181.59" width="3.08" height="5.81" fill="#ff0000" stroke="#1a0000" stroke-width="0.85"/>
<rect x="311.19" y="179.73" width="3.08" height="7.67" fill="#ff0000" stroke="#1a0000" stroke-width="0.85"/>
<rect x="314.27" y="179.73" width="3.08" height="7.67" fill="#ff0000" stroke="#1a0000" stroke-width="0.85"/>
<rect x="317.35" y="179.25" width="3.08" height="8.15" fill="#ff0000" stroke="#1a0000" stroke-width="0.85"/>
<rect x="320.43" y="177.46" width="3.08" height="9.94" fill="#ff0000" stroke="#1a0000" stroke-width="0.85"/>
<rect x="323.52" y="175.72" width="3.08" height="11.68" fill="#ff0000" stroke="#1a0000" stroke-width="0.85"/>
<rect x="326.6" y="174.12" width="3.08" height="13.28" fill="#ff0000" stroke="#1a0000" stroke-width="0.85"/>
<rect x="329.68" y="172" width="3.08" height="15.4" fill="#ff0000" stroke="#1a0000" stroke-width="0.85"/>
<rect x="332.76" y="168.47" width="3.08" height="18.93" fill="#ff0000" stroke="#1a0000" stroke-width="0.85"/>
<rect x="335.84" y="162.7" width="3.08" height="24.7" fill="#ff0000" stroke="#1a0000" stroke-width="0.85"/>
<rect x="338.92" y="155.96" width="3.08" height="31.44" fill="#ff0000" stroke="#1a0000" stroke-width="0.85"/>
<rect x="342" y="149.55" width="3.08" height="37.85" fill="#ff0000" stroke="#1a0000" stroke-width="0.85"/>
<rect x="345.08" y="144.09" width="3.08" height="43.31" fill="#ff0000" stroke="#1a0000" stroke-width="0.85"/>
<rect x="348.17" y="138" width="3.08" height="49.4" fill="#ff0000" stroke="#1a0000" stroke-width="0.85"/>
<rect x="351.25" y="130.3" width="3.08" height="57.1" fill="#ff0000" stroke="#1a0000" stroke-width="0.85"/>
<rect x="354.33" y="122.92" width="3.08" height="64.48" fill="#ff0000" stroke="#1a0000" stroke-width="0.85"/>
<rect x="357.41" y="114.58" width="3.08" height="72.82" fill="#ff0000" stroke="#1a0000" stroke-width="0.85"/>
<rect x="360.49" y="107.2" width="3.08" height="80.2" fill="#ff0000" stroke="#1a0000" stroke-width="0.85"/>
<rect x="363.57" y="102.01" width="3.08" height="85.39" fill="#ff0000" stroke="#1a0000" stroke-width="0.85"/>
<rect x="366.65" y="97.74" width="3.08" height="89.66" fill="#ff0000" stroke="#1a0000" stroke-width="0.85"/>
<rect x="369.73" y="92.44" width="3.08" height="94.96" fill="#ff0000" stroke="#1a0000" stroke-width="0.85"/>
<rect x="372.82" y="86.35" width="3.08" height="101.05" fill="#ff0000" stroke="#1a0000" stroke-width="0.85"/>
<rect x="375.9" y="80.89" width="3.08" height="106.51" fill="#ff0000" stroke="#1a0000" stroke-width="0.85"/>
<rect x="378.98" y="77.37" width="3.08" height="110.03" fill="#ff0000" stroke="#1a0000" stroke-width="0.85"/>
<rect x="382.06" y="76.24" width="3.08" height="111.16" fill="#ff0000" stroke="#1a0000" stroke-width="0.85"/>
<rect x="385.14" y="77.21" width="3.08" height="110.19" fill="#ff0000" stroke="#1a0000" stroke-width="0.85"/>
<rect x="388.22" y="80.89" width="3.08" height="106.51" fill="#ff0000" stroke="#1a0000" stroke-width="0.85"/>
<rect x="391.3" y="86.35" width="3.08" height="101.05" fill="#ff0000" stroke="#1a0000" stroke-width="0.85"/>
<rect x="394.38" y="92.44" width="3.08" height="94.96" fill="#ff0000" stroke="#1a0000" stroke-width="0.85"/>
<rect x="397.47" y="98.86" width="3.08" height="88.54" fill="#ff0000" stroke="#1a0000" stroke-width="0.85"/>
<rect x="400.55" y="104.31" width="3.08" height="83.09" fill="#ff0000" stroke="#1a0000" stroke-width="0.85"/>
<rect x="403.63" y="109.12" width="3.08" height="78.28" fill="#ff0000" stroke="#1a0000" stroke-width="0.85"/>
<rect x="406.71" y="114.33" width="3.08" height="73.07" fill="#ff0000" stroke="#1a0000" stroke-width="0.85"/>
<rect x="409.79" y="119.62" width="3.08" height="67.78" fill="#ff0000" stroke="#1a0000" stroke-width="0.85"/>
<rect x="412.87" y="125.29" width="3.08" height="62.11" fill="#ff0000" stroke="#1a0000" stroke-width="0.85"/>
<rect x="415.95" y="131.07" width="3.08" height="56.33" fill="#ff0000" stroke="#1a0000" stroke-width="0.85"/>
<rect x="419.03" y="136.33" width="3.08" height="51.07" fill="#ff0000" stroke="#1a0000" stroke-width="0.85"/>
<rect x="422.12" y="141.3" width="3.08" height="46.1" fill="#ff0000" stroke="#1a0000" stroke-width="0.85"/>
<rect x="425.2" y="146.13" width="3.08" height="41.27" fill="#ff0000" stroke="#1a0000" stroke-width="0.85"/>
<rect x="428.28" y="150.86" width="3.08" height="36.54" fill="#ff0000" stroke="#1a0000" stroke-width="0.85"/>
<rect x="431.36" y="156.36" width="3.08" height="31.04" fill="#ff0000" stroke="#1a0000" stroke-width="0.85"/>
<rect x="434.44" y="161.27" width="3.08" height="26.13" fill="#ff0000" stroke="#1a0000" stroke-width="0.85"/>
<rect x="437.52" y="164.91" width="3.08" height="22.49" fill="#ff0000" stroke="#1a0000" stroke-width="0.85"/>
<rect x="440.6" y="167.89" width="3.08" height="19.51" fill="#ff0000" stroke="#1a0000" stroke-width="0.85"/>
<rect x="443.68" y="171.04" width="3.08" height="16.36" fill="#ff0000" stroke="#1a0000" stroke-width="0.85"/>
<rect x="446.77" y="173.87" width="3.08" height="13.53" fill="#ff0000" stroke="#1a0000" stroke-width="0.85"/>
<rect x="449.85" y="176.31" width="3.08" height="11.09" fill="#ff0000" stroke="#1a0000" stroke-width="0.85"/>
<rect x="452.93" y="178.63" width="3.08" height="8.77" fill="#ff0000" stroke="#1a0000" stroke-width="0.85"/>
<rect x="456.01" y="180.25" width="3.08" height="7.15" fill="#ff0000" stroke="#1a0000" stroke-width="0.85"/>
<rect x="459.09" y="181.61" width="3.08" height="5.79" fill="#ff0000" stroke="#1a0000" stroke-width="0.85"/>
<rect x="462.17" y="182.88" width="3.08" height="4.52" fill="#ff0000" stroke="#1a0000" stroke-width="0.85"/>
<rect x="465.25" y="183.65" width="3.08" height="3.75" fill="#ff0000" stroke="#1a0000" stroke-width="0.85"/>
<rect x="468.33" y="184.13" width="3.08" height="3.27" fill="#ff0000" stroke="#1a0000" stroke-width="0.85"/>
<rect x="471.42" y="184.47" width="3.08" height="2.93" fill="#ff0000" stroke="#1a0000" stroke-width="0.85"/>
<rect x="474.5" y="184.81" width="3.08" height="2.59" fill="#ff0000" stroke="#1a0000" stroke-width="0.85"/>
<rect x="477.58" y="185.15" width="3.08" height="2.25" fill="#ff0000" stroke="#1a0000" stroke-width="0.85"/>
<rect x="480.66" y="185.42" width="3.08" height="1.98" fill="#ff0000" stroke="#1a0000" stroke-width="0.85"/>
<rect x="483.74" y="185.68" width="3.08" height="1.72" fill="#ff0000" stroke="#1a0000" stroke-width="0.85"/>
<rect x="486.82" y="185.93" width="3.08" height="1.47" fill="#ff0000" stroke="#1a0000" stroke-width="0.85"/>
<rect x="489.9" y="186.18" width="3.08" height="1.22" fill="#ff0000" stroke="#1a0000" stroke-width="0.85"/>
<rect x="492.98" y="186.44" width="3.08" height="0.96" fill="#ff0000" stroke="#1a0000" stroke-width="0.85"/>
<rect x="496.07" y="186.57" width="3.08" height="0.83" fill="#ff0000" stroke="#1a0000" stroke-width="0.85"/>
<rect x="499.15" y="186.69" width="3.08" height="0.71" fill="#ff0000" stroke="#1a0000" stroke-width="0.85"/>
<rect x="502.23" y="186.82" width="3.08" height="0.58" fill="#ff0000" stroke="#1a0000" stroke-width="0.85"/>
<rect x="505.31" y="186.95" width="3.08" height="0.45" fill="#ff0000" stroke="#1a0000" stroke-width="0.85"/>
<rect x="508.39" y="187.03" width="3.08" height="0.37" fill="#ff0000" stroke="#1a0000" stroke-width="0.85"/>
<rect x="511.47" y="187.11" width="3.08" height="0.29" fill="#ff0000" stroke="#1a0000" stroke-width="0.85"/>
</g>
<g>
<path d="M375.99 172.76V152.91M373.19 152.91H378.79M390.38 119.83V99.58M387.58 99.58H393.18M407.05 71.91V70.31M404.25 70.31H409.85M426.34 71.51V54.67M423.54 54.67H429.14M448.68 118.43V100.38M445.88 100.38H451.48M474.53 170.96V163.74M471.73 163.74H477.33" fill="none" stroke="#1c1cff" stroke-width="0.95"/>
<rect x="373.19" y="172.76" width="5.6" height="14.64" fill="#fff"/>
<rect x="373.19" y="172.76" width="5.6" height="14.64" fill="url(#hatch)"/>
<rect x="387.58" y="119.83" width="5.6" height="67.57" fill="#fff"/>
<rect x="387.58" y="119.83" width="5.6" height="67.57" fill="url(#hatch)"/>
<rect x="404.25" y="71.91" width="5.6" height="115.49" fill="#fff"/>
<rect x="404.25" y="71.91" width="5.6" height="115.49" fill="url(#hatch)"/>
<rect x="423.54" y="71.51" width="5.6" height="115.89" fill="#fff"/>
<rect x="423.54" y="71.51" width="5.6" height="115.89" fill="url(#hatch)"/>
<rect x="445.88" y="118.43" width="5.6" height="68.97" fill="#fff"/>
<rect x="445.88" y="118.43" width="5.6" height="68.97" fill="url(#hatch)"/>
<rect x="471.73" y="170.96" width="5.6" height="16.44" fill="#fff"/>
<rect x="471.73" y="170.96" width="5.6" height="16.44" fill="url(#hatch)"/>
</g>
<path d="M285 26.15V187.4H531.5V26.15" fill="none" stroke="#000" stroke-width="1.7" stroke-linejoin="miter"/>
<path d="M285 187.4v4.6M315.81 187.4v4.6M346.62 187.4v4.6M377.44 187.4v4.6M408.25 187.4v4.6M439.06 187.4v4.6M469.88 187.4v4.6M500.69 187.4v4.6M531.5 187.4v4.6M285 187.4h-5M285 155.32h-5M285 123.24h-5M285 91.16h-5M285 59.08h-5M285 27h-5M531.5 187.4h5M531.5 147.3h5M531.5 107.2h5M531.5 67.1h5M531.5 27h5" fill="none" stroke="#000" stroke-width="1.5"/>
<g font-family="Liberation Sans, Arial, sans-serif" font-weight="bold" font-size="10.3" fill="#000">
<text x="285" y="203" text-anchor="middle">0</text>
<text x="315.81" y="203" text-anchor="middle">100</text>
<text x="346.62" y="203" text-anchor="middle">200</text>
<text x="377.44" y="203" text-anchor="middle">300</text>
<text x="408.25" y="203" text-anchor="middle">400</text>
<text x="439.06" y="203" text-anchor="middle">500</text>
<text x="469.88" y="203" text-anchor="middle">600</text>
<text x="500.69" y="203" text-anchor="middle">700</text>
<text x="531.5" y="203" text-anchor="middle">800</text>
<text x="279.4" y="190.85" text-anchor="end">0</text>
<text x="279.4" y="158.77" text-anchor="end">5</text>
<text x="279.4" y="126.69" text-anchor="end">10</text>
<text x="279.4" y="94.61" text-anchor="end">15</text>
<text x="279.4" y="62.53" text-anchor="end">20</text>
<text x="279.4" y="30.45" text-anchor="end">25</text>
<text x="538.5" y="190.85">0</text>
<text x="538.5" y="150.75">10</text>
<text x="538.5" y="110.65">20</text>
<text x="538.5" y="70.55">30</text>
<text x="538.5" y="30.45">40</text>
</g>
<text font-family="Liberation Sans, Arial, sans-serif" font-weight="bold" font-size="11.9" text-anchor="middle" transform="translate(255.2 106.6) rotate(-90)">NTA particles E6/ml</text>
<text font-family="Liberation Sans, Arial, sans-serif" font-weight="bold" font-size="12" text-anchor="middle" transform="translate(562 106.2) rotate(90)">DLS intensity (%)</text>
<text font-family="Liberation Sans, Arial, sans-serif" font-weight="bold" font-size="12" text-anchor="middle" x="408.25" y="224.5">Size (nm)</text>
<rect x="460.7" y="52" width="5.6" height="9.8" fill="#fff"/><rect x="460.7" y="52" width="5.6" height="9.8" fill="url(#hatch)"/>
<rect x="461.2" y="70.6" width="4.8" height="10" fill="#ff0000" stroke="#300" stroke-width="0.8"/>
<text font-family="Liberation Sans, Arial, sans-serif" font-size="12" x="480.3" y="61">DLS</text>
<text font-family="Liberation Sans, Arial, sans-serif" font-size="12" x="480.3" y="79.6">NTA</text>
</g>
<g id="chart-b">
<g>
<path d="M294.69 408.32V405.51M292.09 405.51H297.29M297.94 397.53V389.09M295.34 389.09H300.54M301.18 390.26V385.34M298.58 385.34H303.78M304.43 368.92V358.59M301.83 358.59H307.03M307.67 361.41V352.5M305.07 352.5H310.27M310.92 352.03V343.11M308.32 343.11H313.52M314.16 339.36V324.82M311.56 324.82H316.76M317.41 332.32V306.99M314.81 306.99H320.01M320.65 311.21V291.04M318.05 291.04H323.25M323.9 298.54V266.17M321.3 266.17H326.5M327.14 300.42V247.88M324.54 247.88H329.74M330.39 304.64V261.95M327.79 261.95H332.99M333.63 311.21V289.16M331.03 289.16H336.23M336.88 317.31V290.1M334.28 290.1H339.48M340.13 323.41V290.57M337.53 290.57H342.73M343.37 326.22V293.85M340.77 293.85H345.97M346.62 327.16V308.4M344.02 308.4H349.22M349.86 332.79V330.91M347.26 330.91H352.46M353.11 347.8V337.01M350.51 337.01H355.71M356.35 364.69V352.96M353.75 352.96H358.95M359.6 376.42V367.04M357 367.04H362.2M362.84 380.17V370.32M360.24 370.32H365.44M366.09 379.24V371.26M363.49 371.26H368.69M369.33 376.89V363.29M366.73 363.29H371.93M372.58 375.48V354.37M369.98 354.37H375.18M375.82 375.95V348.74M373.22 348.74H378.42M379.07 378.06V349.68M376.47 349.68H381.67M382.31 381.58V355.78M379.71 355.78H384.91M385.56 386.74V364.69M382.96 364.69H388.16M388.81 391.9V375.01M386.21 375.01H391.41M392.05 396.59V383.46M389.45 383.46H394.65M395.3 399.13V389.56M392.7 389.56H397.9M398.54 400.35V393.31M395.94 393.31H401.14M401.79 400.35V393.78M399.19 393.78H404.39M405.03 399.6V393.31M402.43 393.31H407.63M408.28 399.13V392.37M405.68 392.37H410.88M411.52 399.13V392.37M408.92 392.37H414.12M414.77 399.41V392.84M412.17 392.84H417.37M418.01 401.29V394.72M415.41 394.72H420.61M421.26 403.16V398M418.66 398H423.86M424.5 404.57V400.82M421.9 400.82H427.1M427.75 405.74V402.69M425.15 402.69H430.35M430.99 405.98V403.16M428.39 403.16H433.59M434.24 405.74V402.69M431.64 402.69H436.84M437.49 405.27V400.82M434.89 400.82H440.09M440.73 404.57V398.94M438.13 398.94H443.33M443.98 403.87V397.53M441.38 397.53H446.58M447.22 403.4V396.13M444.62 396.13H449.82M450.47 403.16V395.66M447.87 395.66H453.07M453.71 403.4V396.13M451.11 396.13H456.31M456.96 404.34V397.53M454.36 397.53H459.56M460.2 405.51V399.41M457.6 399.41H462.8M463.45 406.45V400.82M460.85 400.82H466.05M466.69 407.62V403.63M464.09 403.63H469.29M469.94 408.32V405.51M467.34 405.51H472.54M473.18 409.03V406.92M470.58 406.92H475.78M476.43 409.5V408.09M473.83 408.09H479.03M479.67 409.71V408.68M477.07 408.68H482.27M482.92 409.92V409.26M480.32 409.26H485.52M486.17 409.95V409.34M483.57 409.34H488.77M489.41 409.97V409.41M486.81 409.41H492.01M492.66 410V409.49M490.06 409.49H495.26M495.9 410.03V409.56M493.3 409.56H498.5M499.15 410.06V409.64M496.55 409.64H501.75M502.39 410.05V409.64M499.79 409.64H504.99M505.64 410.04V409.64M503.04 409.64H508.24M508.88 410.03V409.64M506.28 409.64H511.48M512.13 410.02V409.64M509.53 409.64H514.73M515.37 410.01V409.64M512.77 409.64H517.97M518.62 410.02V409.66M516.02 409.66H521.22M521.86 410.03V409.67M519.26 409.67H524.46M525.11 410.04V409.69M522.51 409.69H527.71M528.35 410.05V409.71M525.75 409.71H530.95" fill="none" stroke="#ff1e1e" stroke-width="1"/>
<rect x="293.07" y="408.32" width="3.25" height="1.88" fill="#ff0000" stroke="#1a0000" stroke-width="0.85"/>
<rect x="296.31" y="397.53" width="3.25" height="12.67" fill="#ff0000" stroke="#1a0000" stroke-width="0.85"/>
<rect x="299.56" y="390.26" width="3.25" height="19.94" fill="#ff0000" stroke="#1a0000" stroke-width="0.85"/>
<rect x="302.8" y="368.92" width="3.25" height="41.28" fill="#ff0000" stroke="#1a0000" stroke-width="0.85"/>
<rect x="306.05" y="361.41" width="3.25" height="48.79" fill="#ff0000" stroke="#1a0000" stroke-width="0.85"/>
<rect x="309.29" y="352.03" width="3.25" height="58.17" fill="#ff0000" stroke="#1a0000" stroke-width="0.85"/>
<rect x="312.54" y="339.36" width="3.25" height="70.84" fill="#ff0000" stroke="#1a0000" stroke-width="0.85"/>
<rect x="315.79" y="332.32" width="3.25" height="77.88" fill="#ff0000" stroke="#1a0000" stroke-width="0.85"/>
<rect x="319.03" y="311.21" width="3.25" height="98.99" fill="#ff0000" stroke="#1a0000" stroke-width="0.85"/>
<rect x="322.28" y="298.54" width="3.25" height="111.66" fill="#ff0000" stroke="#1a0000" stroke-width="0.85"/>
<rect x="325.52" y="300.42" width="3.25" height="109.78" fill="#ff0000" stroke="#1a0000" stroke-width="0.85"/>
<rect x="328.77" y="304.64" width="3.25" height="105.56" fill="#ff0000" stroke="#1a0000" stroke-width="0.85"/>
<rect x="332.01" y="311.21" width="3.25" height="98.99" fill="#ff0000" stroke="#1a0000" stroke-width="0.85"/>
<rect x="335.26" y="317.31" width="3.25" height="92.89" fill="#ff0000" stroke="#1a0000" stroke-width="0.85"/>
<rect x="338.5" y="323.41" width="3.25" height="86.79" fill="#ff0000" stroke="#1a0000" stroke-width="0.85"/>
<rect x="341.75" y="326.22" width="3.25" height="83.98" fill="#ff0000" stroke="#1a0000" stroke-width="0.85"/>
<rect x="344.99" y="327.16" width="3.25" height="83.04" fill="#ff0000" stroke="#1a0000" stroke-width="0.85"/>
<rect x="348.24" y="332.79" width="3.25" height="77.41" fill="#ff0000" stroke="#1a0000" stroke-width="0.85"/>
<rect x="351.48" y="347.8" width="3.25" height="62.4" fill="#ff0000" stroke="#1a0000" stroke-width="0.85"/>
<rect x="354.73" y="364.69" width="3.25" height="45.51" fill="#ff0000" stroke="#1a0000" stroke-width="0.85"/>
<rect x="357.97" y="376.42" width="3.25" height="33.78" fill="#ff0000" stroke="#1a0000" stroke-width="0.85"/>
<rect x="361.22" y="380.17" width="3.25" height="30.03" fill="#ff0000" stroke="#1a0000" stroke-width="0.85"/>
<rect x="364.47" y="379.24" width="3.25" height="30.96" fill="#ff0000" stroke="#1a0000" stroke-width="0.85"/>
<rect x="367.71" y="376.89" width="3.25" height="33.31" fill="#ff0000" stroke="#1a0000" stroke-width="0.85"/>
<rect x="370.96" y="375.48" width="3.25" height="34.72" fill="#ff0000" stroke="#1a0000" stroke-width="0.85"/>
<rect x="374.2" y="375.95" width="3.25" height="34.25" fill="#ff0000" stroke="#1a0000" stroke-width="0.85"/>
<rect x="377.45" y="378.06" width="3.25" height="32.14" fill="#ff0000" stroke="#1a0000" stroke-width="0.85"/>
<rect x="380.69" y="381.58" width="3.25" height="28.62" fill="#ff0000" stroke="#1a0000" stroke-width="0.85"/>
<rect x="383.94" y="386.74" width="3.25" height="23.46" fill="#ff0000" stroke="#1a0000" stroke-width="0.85"/>
<rect x="387.18" y="391.9" width="3.25" height="18.3" fill="#ff0000" stroke="#1a0000" stroke-width="0.85"/>
<rect x="390.43" y="396.59" width="3.25" height="13.61" fill="#ff0000" stroke="#1a0000" stroke-width="0.85"/>
<rect x="393.67" y="399.13" width="3.25" height="11.07" fill="#ff0000" stroke="#1a0000" stroke-width="0.85"/>
<rect x="396.92" y="400.35" width="3.25" height="9.85" fill="#ff0000" stroke="#1a0000" stroke-width="0.85"/>
<rect x="400.16" y="400.35" width="3.25" height="9.85" fill="#ff0000" stroke="#1a0000" stroke-width="0.85"/>
<rect x="403.41" y="399.6" width="3.25" height="10.6" fill="#ff0000" stroke="#1a0000" stroke-width="0.85"/>
<rect x="406.65" y="399.13" width="3.25" height="11.07" fill="#ff0000" stroke="#1a0000" stroke-width="0.85"/>
<rect x="409.9" y="399.13" width="3.25" height="11.07" fill="#ff0000" stroke="#1a0000" stroke-width="0.85"/>
<rect x="413.15" y="399.41" width="3.25" height="10.79" fill="#ff0000" stroke="#1a0000" stroke-width="0.85"/>
<rect x="416.39" y="401.29" width="3.25" height="8.91" fill="#ff0000" stroke="#1a0000" stroke-width="0.85"/>
<rect x="419.64" y="403.16" width="3.25" height="7.04" fill="#ff0000" stroke="#1a0000" stroke-width="0.85"/>
<rect x="422.88" y="404.57" width="3.25" height="5.63" fill="#ff0000" stroke="#1a0000" stroke-width="0.85"/>
<rect x="426.13" y="405.74" width="3.25" height="4.46" fill="#ff0000" stroke="#1a0000" stroke-width="0.85"/>
<rect x="429.37" y="405.98" width="3.25" height="4.22" fill="#ff0000" stroke="#1a0000" stroke-width="0.85"/>
<rect x="432.62" y="405.74" width="3.25" height="4.46" fill="#ff0000" stroke="#1a0000" stroke-width="0.85"/>
<rect x="435.86" y="405.27" width="3.25" height="4.93" fill="#ff0000" stroke="#1a0000" stroke-width="0.85"/>
<rect x="439.11" y="404.57" width="3.25" height="5.63" fill="#ff0000" stroke="#1a0000" stroke-width="0.85"/>
<rect x="442.35" y="403.87" width="3.25" height="6.33" fill="#ff0000" stroke="#1a0000" stroke-width="0.85"/>
<rect x="445.6" y="403.4" width="3.25" height="6.8" fill="#ff0000" stroke="#1a0000" stroke-width="0.85"/>
<rect x="448.84" y="403.16" width="3.25" height="7.04" fill="#ff0000" stroke="#1a0000" stroke-width="0.85"/>
<rect x="452.09" y="403.4" width="3.25" height="6.8" fill="#ff0000" stroke="#1a0000" stroke-width="0.85"/>
<rect x="455.33" y="404.34" width="3.25" height="5.86" fill="#ff0000" stroke="#1a0000" stroke-width="0.85"/>
<rect x="458.58" y="405.51" width="3.25" height="4.69" fill="#ff0000" stroke="#1a0000" stroke-width="0.85"/>
<rect x="461.83" y="406.45" width="3.25" height="3.75" fill="#ff0000" stroke="#1a0000" stroke-width="0.85"/>
<rect x="465.07" y="407.62" width="3.25" height="2.58" fill="#ff0000" stroke="#1a0000" stroke-width="0.85"/>
<rect x="468.32" y="408.32" width="3.25" height="1.88" fill="#ff0000" stroke="#1a0000" stroke-width="0.85"/>
<rect x="471.56" y="409.03" width="3.25" height="1.17" fill="#ff0000" stroke="#1a0000" stroke-width="0.85"/>
<rect x="474.81" y="409.5" width="3.25" height="0.7" fill="#ff0000" stroke="#1a0000" stroke-width="0.85"/>
<rect x="478.05" y="409.71" width="3.25" height="0.49" fill="#ff0000" stroke="#1a0000" stroke-width="0.85"/>
<rect x="481.3" y="409.92" width="3.25" height="0.28" fill="#ff0000" stroke="#1a0000" stroke-width="0.85"/>
<rect x="484.54" y="409.95" width="3.25" height="0.25" fill="#ff0000" stroke="#1a0000" stroke-width="0.85"/>
</g>
<g>
<path d="M308.06 406.51V399.94M305.26 399.94H310.86M311.21 406.51V399.94M308.41 399.94H314.01M314.84 401.99V390.91M312.04 390.91H317.64M319.05 387.21V361.76M316.25 361.76H321.85M323.93 362.99V344.93M321.13 344.93H326.73M329.58 339.59V328.1M326.78 328.1H332.38M336.12 330.15V297.31M333.32 297.31H338.92M343.7 342.47V305.52M340.9 305.52H346.5M352.47 369.56V343.29M349.67 343.29H355.27M362.63 395.42V372.02M359.83 372.02H365.43M374.4 403.63V391.73M371.6 391.73H377.2M388.01 406.51V402.81M385.21 402.81H390.81M403.8 406.09V399.94M401 399.94H406.6M422.07 404.25V392.96M419.27 392.96H424.87M443.23 403.63V390.91M440.43 390.91H446.03M467.67 404.45V391.73M464.87 391.73H470.47M496.06 406.51V396.04M493.26 396.04H498.86M529 407.74V401.58M526.2 401.58H531.8" fill="none" stroke="#1c1cff" stroke-width="0.95"/>
<rect x="304.91" y="406.51" width="6.3" height="3.69" fill="#fff"/>
<rect x="304.91" y="406.51" width="6.3" height="3.69" fill="url(#hatch)" stroke="#ffe4e4" stroke-width="0.7"/>
<rect x="308.06" y="406.51" width="6.3" height="3.69" fill="#fff"/>
<rect x="308.06" y="406.51" width="6.3" height="3.69" fill="url(#hatch)" stroke="#ffe4e4" stroke-width="0.7"/>
<rect x="311.69" y="401.99" width="6.3" height="8.21" fill="#fff"/>
<rect x="311.69" y="401.99" width="6.3" height="8.21" fill="url(#hatch)" stroke="#ffe4e4" stroke-width="0.7"/>
<rect x="315.9" y="387.21" width="6.3" height="22.99" fill="#fff"/>
<rect x="315.9" y="387.21" width="6.3" height="22.99" fill="url(#hatch)" stroke="#ffe4e4" stroke-width="0.7"/>
<rect x="320.78" y="362.99" width="6.3" height="47.21" fill="#fff"/>
<rect x="320.78" y="362.99" width="6.3" height="47.21" fill="url(#hatch)" stroke="#ffe4e4" stroke-width="0.7"/>
<rect x="326.43" y="339.59" width="6.3" height="70.61" fill="#fff"/>
<rect x="326.43" y="339.59" width="6.3" height="70.61" fill="url(#hatch)" stroke="#ffe4e4" stroke-width="0.7"/>
<rect x="332.97" y="330.15" width="6.3" height="80.05" fill="#fff"/>
<rect x="332.97" y="330.15" width="6.3" height="80.05" fill="url(#hatch)" stroke="#ffe4e4" stroke-width="0.7"/>
<rect x="340.55" y="342.47" width="6.3" height="67.73" fill="#fff"/>
<rect x="340.55" y="342.47" width="6.3" height="67.73" fill="url(#hatch)" stroke="#ffe4e4" stroke-width="0.7"/>
<rect x="349.32" y="369.56" width="6.3" height="40.64" fill="#fff"/>
<rect x="349.32" y="369.56" width="6.3" height="40.64" fill="url(#hatch)" stroke="#ffe4e4" stroke-width="0.7"/>
<rect x="359.48" y="395.42" width="6.3" height="14.78" fill="#fff"/>
<rect x="359.48" y="395.42" width="6.3" height="14.78" fill="url(#hatch)" stroke="#ffe4e4" stroke-width="0.7"/>
<rect x="371.25" y="403.63" width="6.3" height="6.57" fill="#fff"/>
<rect x="371.25" y="403.63" width="6.3" height="6.57" fill="url(#hatch)" stroke="#ffe4e4" stroke-width="0.7"/>
<rect x="384.86" y="406.51" width="6.3" height="3.69" fill="#fff"/>
<rect x="384.86" y="406.51" width="6.3" height="3.69" fill="url(#hatch)" stroke="#ffe4e4" stroke-width="0.7"/>
<rect x="400.65" y="406.09" width="6.3" height="4.1" fill="#fff"/>
<rect x="400.65" y="406.09" width="6.3" height="4.1" fill="url(#hatch)" stroke="#ffe4e4" stroke-width="0.7"/>
<rect x="418.92" y="404.25" width="6.3" height="5.95" fill="#fff"/>
<rect x="418.92" y="404.25" width="6.3" height="5.95" fill="url(#hatch)" stroke="#ffe4e4" stroke-width="0.7"/>
<rect x="440.08" y="403.63" width="6.3" height="6.57" fill="#fff"/>
<rect x="440.08" y="403.63" width="6.3" height="6.57" fill="url(#hatch)" stroke="#ffe4e4" stroke-width="0.7"/>
<rect x="464.52" y="404.45" width="6.3" height="5.75" fill="#fff"/>
<rect x="464.52" y="404.45" width="6.3" height="5.75" fill="url(#hatch)" stroke="#ffe4e4" stroke-width="0.7"/>
<rect x="492.91" y="406.51" width="6.3" height="3.69" fill="#fff"/>
<rect x="492.91" y="406.51" width="6.3" height="3.69" fill="url(#hatch)" stroke="#ffe4e4" stroke-width="0.7"/>
<rect x="525.85" y="407.74" width="6.3" height="2.46" fill="#fff"/>
<rect x="525.85" y="407.74" width="6.3" height="2.46" fill="url(#hatch)" stroke="#ffe4e4" stroke-width="0.7"/>
</g>
<path d="M288.2 245.15V410.2H531.6V245.15" fill="none" stroke="#000" stroke-width="1.7" stroke-linejoin="miter"/>
<path d="M288.2 410.2v4.6M328.77 410.2v4.6M369.33 410.2v4.6M409.9 410.2v4.6M450.47 410.2v4.6M491.03 410.2v4.6M531.6 410.2v4.6M288.2 410.2h-5M288.2 386.74h-5M288.2 363.29h-5M288.2 339.83h-5M288.2 316.37h-5M288.2 292.91h-5M288.2 269.46h-5M288.2 246h-5M531.6 410.2h5M531.6 369.15h5M531.6 328.1h5M531.6 287.05h5M531.6 246h5" fill="none" stroke="#000" stroke-width="1.5"/>
<g font-family="Liberation Sans, Arial, sans-serif" font-weight="bold" font-size="10.3" fill="#000">
<text x="288.2" y="425.8" text-anchor="middle">0</text>
<text x="328.77" y="425.8" text-anchor="middle">250</text>
<text x="369.33" y="425.8" text-anchor="middle">500</text>
<text x="409.9" y="425.8" text-anchor="middle">750</text>
<text x="450.47" y="425.8" text-anchor="middle">1000</text>
<text x="491.03" y="425.8" text-anchor="middle">1250</text>
<text x="531.6" y="425.8" text-anchor="middle">1500</text>
<text x="282.6" y="413.65" text-anchor="end">0</text>
<text x="282.6" y="390.19" text-anchor="end">5</text>
<text x="282.6" y="366.74" text-anchor="end">10</text>
<text x="282.6" y="343.28" text-anchor="end">15</text>
<text x="282.6" y="319.82" text-anchor="end">20</text>
<text x="282.6" y="296.36" text-anchor="end">25</text>
<text x="282.6" y="272.91" text-anchor="end">30</text>
<text x="282.6" y="249.45" text-anchor="end">35</text>
<text x="538.6" y="413.65">0</text>
<text x="538.6" y="372.6">10</text>
<text x="538.6" y="331.55">20</text>
<text x="538.6" y="290.5">30</text>
<text x="538.6" y="249.45">40</text>
</g>
<text font-family="Liberation Sans, Arial, sans-serif" font-weight="bold" font-size="12.1" text-anchor="middle" transform="translate(257.6 328.2) rotate(-90)">NTA particles E6/ml</text>
<text font-family="Liberation Sans, Arial, sans-serif" font-weight="bold" font-size="12" text-anchor="middle" transform="translate(563.2 327.1) rotate(90)">DLS intensity (%)</text>
<rect x="426.2" y="284" width="5.6" height="9.8" fill="#fff"/><rect x="426.2" y="284" width="5.6" height="9.8" fill="url(#hatch)"/>
<rect x="426.7" y="302.8" width="4.8" height="10" fill="#ff0000" stroke="#300" stroke-width="0.8"/>
<text font-family="Liberation Sans, Arial, sans-serif" font-size="12" x="445.4" y="293">DLS</text>
<text font-family="Liberation Sans, Arial, sans-serif" font-size="12" x="445.4" y="311.8">NTA</text>
</g>
<g id="chart-c">
<g>
<path d="M297.28 631.45V628.09M294.48 628.09H300.08M298.64 620.68V614.62M295.84 614.62H301.44M300.2 606.21V597.79M297.4 597.79H303M302.02 577.6V566.66M299.22 566.66H304.82M304.12 550.67V538.89M301.32 538.89H306.92M306.58 528.79V515.66M303.78 515.66H309.38M309.41 517.01V506.07M306.61 506.07H312.21M312.67 507.75V498.66M309.87 498.66H315.47M316.47 496.81V486.88M313.67 486.88H319.27M320.85 491.76V478.63M318.05 478.63H323.65M325.92 488.9V474.76M323.12 474.76H328.72M331.82 494.29V478.47M329.02 478.47H334.62M338.64 504.05V488.4M335.84 488.4H341.44M346.51 517.85V505.73M343.71 505.73H349.31M355.67 533.16V523.74M352.87 523.74H358.47M366.25 551.34V543.93M363.45 543.93H369.05M378.51 570.19V560.76M375.71 560.76H381.31M392.71 586.85V575.91M389.91 575.91H395.51M409.16 601.83V589.54M406.36 589.54H411.96M428.2 615.46V603.34M425.4 603.34H431M450.25 625.9V615.13M447.45 615.13H453.05M475.77 630.95V623.88M472.97 623.88H478.57M505.36 634.14V630.44M502.56 630.44H508.16" fill="none" stroke="#1c1cff" stroke-width="0.95"/>
<rect x="294.58" y="631.45" width="5.4" height="5.05" fill="#fff"/>
<rect x="294.58" y="631.45" width="5.4" height="5.05" fill="url(#hatch)"/>
<rect x="295.94" y="620.68" width="5.4" height="15.82" fill="#fff"/>
<rect x="295.94" y="620.68" width="5.4" height="15.82" fill="url(#hatch)"/>
<rect x="297.5" y="606.21" width="5.4" height="30.29" fill="#fff"/>
<rect x="297.5" y="606.21" width="5.4" height="30.29" fill="url(#hatch)"/>
<rect x="299.32" y="577.6" width="5.4" height="58.91" fill="#fff"/>
<rect x="299.32" y="577.6" width="5.4" height="58.91" fill="url(#hatch)"/>
<rect x="301.42" y="550.67" width="5.4" height="85.83" fill="#fff"/>
<rect x="301.42" y="550.67" width="5.4" height="85.83" fill="url(#hatch)"/>
<rect x="303.88" y="528.79" width="5.4" height="107.71" fill="#fff"/>
<rect x="303.88" y="528.79" width="5.4" height="107.71" fill="url(#hatch)"/>
<rect x="306.71" y="517.01" width="5.4" height="119.49" fill="#fff"/>
<rect x="306.71" y="517.01" width="5.4" height="119.49" fill="url(#hatch)"/>
<rect x="309.97" y="507.75" width="5.4" height="128.75" fill="#fff"/>
<rect x="309.97" y="507.75" width="5.4" height="128.75" fill="url(#hatch)"/>
<rect x="313.77" y="496.81" width="5.4" height="139.69" fill="#fff"/>
<rect x="313.77" y="496.81" width="5.4" height="139.69" fill="url(#hatch)"/>
<rect x="318.15" y="491.76" width="5.4" height="144.74" fill="#fff"/>
<rect x="318.15" y="491.76" width="5.4" height="144.74" fill="url(#hatch)"/>
<rect x="323.22" y="488.9" width="5.4" height="147.6" fill="#fff"/>
<rect x="323.22" y="488.9" width="5.4" height="147.6" fill="url(#hatch)"/>
<rect x="329.12" y="494.29" width="5.4" height="142.21" fill="#fff"/>
<rect x="329.12" y="494.29" width="5.4" height="142.21" fill="url(#hatch)"/>
<rect x="335.94" y="504.05" width="5.4" height="132.45" fill="#fff"/>
<rect x="335.94" y="504.05" width="5.4" height="132.45" fill="url(#hatch)"/>
<rect x="343.81" y="517.85" width="5.4" height="118.65" fill="#fff"/>
<rect x="343.81" y="517.85" width="5.4" height="118.65" fill="url(#hatch)"/>
<rect x="352.97" y="533.16" width="5.4" height="103.34" fill="#fff"/>
<rect x="352.97" y="533.16" width="5.4" height="103.34" fill="url(#hatch)"/>
<rect x="363.55" y="551.34" width="5.4" height="85.16" fill="#fff"/>
<rect x="363.55" y="551.34" width="5.4" height="85.16" fill="url(#hatch)"/>
<rect x="375.81" y="570.19" width="5.4" height="66.31" fill="#fff"/>
<rect x="375.81" y="570.19" width="5.4" height="66.31" fill="url(#hatch)"/>
<rect x="390.01" y="586.85" width="5.4" height="49.65" fill="#fff"/>
<rect x="390.01" y="586.85" width="5.4" height="49.65" fill="url(#hatch)"/>
<rect x="406.46" y="601.83" width="5.4" height="34.67" fill="#fff"/>
<rect x="406.46" y="601.83" width="5.4" height="34.67" fill="url(#hatch)"/>
<rect x="425.5" y="615.46" width="5.4" height="21.04" fill="#fff"/>
<rect x="425.5" y="615.46" width="5.4" height="21.04" fill="url(#hatch)"/>
<rect x="447.55" y="625.9" width="5.4" height="10.6" fill="#fff"/>
<rect x="447.55" y="625.9" width="5.4" height="10.6" fill="url(#hatch)"/>
<rect x="473.07" y="630.95" width="5.4" height="5.55" fill="#fff"/>
<rect x="473.07" y="630.95" width="5.4" height="5.55" fill="url(#hatch)"/>
<rect x="502.66" y="634.14" width="5.4" height="2.36" fill="#fff"/>
<rect x="502.66" y="634.14" width="5.4" height="2.36" fill="url(#hatch)"/>
</g>
<g>
<path d="M294.78 636.31V635.94M292.18 635.94H297.38M297.82 635.94V635M295.22 635H300.42M300.87 634.63V632.76M298.26 632.76H303.47M303.91 631.83V628.09M301.31 628.09H306.51M306.95 626.22V620.04M304.35 620.04H309.55M309.99 616.49V602.28M307.39 602.28H312.59M313.03 606.77V590.5M310.43 590.5H315.63M316.07 592.55V567.87M313.47 567.87H318.67M319.11 578.34V548.24M316.51 548.24H321.71M322.15 564.32V535.89M319.55 535.89H324.75M325.19 549.17V522.62M322.59 522.62H327.8M328.24 535.15V512.89M325.64 512.89H330.84M331.28 528.41V508.4M328.68 508.4H333.88M334.32 532.34V508.78M331.72 508.78H336.92M337.36 539.45V513.83M334.76 513.83H339.96M340.4 548.24V520.56M337.8 520.56H343M343.44 557.21V530.66M340.84 530.66H346.04M346.48 566.94V542.63M343.88 542.63H349.08M349.52 574.79V555.34M346.92 555.34H352.12M352.57 582.83V566.94M349.97 566.94H355.17M355.61 590.87V573.11M353.01 573.11H358.21M358.65 597.04V581.9M356.05 581.9H361.25M361.69 601.9V590.87M359.09 590.87H364.29M364.73 605.64V597.42M362.13 597.42H367.33M367.77 608.64V601.53M365.17 601.53H370.37M370.81 612V605.64M368.21 605.64H373.41M373.86 615.56V609.38M371.25 609.38H376.46M376.9 619.67V614.62M374.3 614.62H379.5M379.94 623.41V618.17M377.34 618.17H382.54M382.98 626.4V621.17M380.38 621.17H385.58M386.02 628.65V624.91M383.42 624.91H388.62M389.06 630.33V626.78M386.46 626.78H391.66M392.1 631.45V628.09M389.5 628.09H394.7M395.14 632.29V628.83M392.54 628.83H397.74M398.19 632.76V629.3M395.58 629.3H400.79M401.23 632.95V629.58M398.63 629.58H403.83M404.27 633.23V630.14M401.67 630.14H406.87M407.31 633.51V630.7M404.71 630.7H409.91M410.35 633.7V631.54M407.75 631.54H412.95M413.39 634.07V632.29M410.79 632.29H415.99M416.43 634.44V633.04M413.83 633.04H419.03M419.47 634.82V633.51M416.87 633.51H422.07M422.51 635.19V634.07M419.91 634.07H425.12M425.56 635.47V634.44M422.96 634.44H428.16M428.6 635.66V634.82M426 634.82H431.2M431.64 635.85V635.19M429.04 635.19H434.24M434.68 635.94V635.38M432.08 635.38H437.28M437.72 636.03V635.57M435.12 635.57H440.32M440.76 636.13V635.57M438.16 635.57H443.36M443.8 636.13V635.57M441.2 635.57H446.4M446.85 636.13V635.53M444.25 635.53H449.45M449.89 636.13V635.49M447.29 635.49H452.49M452.93 636.06V635.45M450.33 635.45H455.53M455.97 636V635.42M453.37 635.42H458.57M459.01 635.94V635.38M456.41 635.38H461.61M462.05 635.99V635.47M459.45 635.47H464.65M465.09 636.03V635.57M462.49 635.57H467.69M468.13 636.15V635.66M465.53 635.66H470.73M471.18 636.28V635.75M468.57 635.75H473.78M474.22 636.33V635.91M471.62 635.91H476.82M477.26 636.39V636.06M474.66 636.06H479.86" fill="none" stroke="#ff1e1e" stroke-width="1"/>
<rect x="296.3" y="635.94" width="3.04" height="0.56" fill="#ff0000" stroke="#1a0000" stroke-width="0.85"/>
<rect x="299.34" y="634.63" width="3.04" height="1.87" fill="#ff0000" stroke="#1a0000" stroke-width="0.85"/>
<rect x="302.39" y="631.83" width="3.04" height="4.68" fill="#ff0000" stroke="#1a0000" stroke-width="0.85"/>
<rect x="305.43" y="626.22" width="3.04" height="10.29" fill="#ff0000" stroke="#1a0000" stroke-width="0.85"/>
<rect x="308.47" y="616.49" width="3.04" height="20.01" fill="#ff0000" stroke="#1a0000" stroke-width="0.85"/>
<rect x="311.51" y="606.77" width="3.04" height="29.73" fill="#ff0000" stroke="#1a0000" stroke-width="0.85"/>
<rect x="314.55" y="592.55" width="3.04" height="43.95" fill="#ff0000" stroke="#1a0000" stroke-width="0.85"/>
<rect x="317.59" y="578.34" width="3.04" height="58.16" fill="#ff0000" stroke="#1a0000" stroke-width="0.85"/>
<rect x="320.63" y="564.32" width="3.04" height="72.18" fill="#ff0000" stroke="#1a0000" stroke-width="0.85"/>
<rect x="323.67" y="549.17" width="3.04" height="87.33" fill="#ff0000" stroke="#1a0000" stroke-width="0.85"/>
<rect x="326.72" y="535.15" width="3.04" height="101.35" fill="#ff0000" stroke="#1a0000" stroke-width="0.85"/>
<rect x="329.76" y="528.41" width="3.04" height="108.09" fill="#ff0000" stroke="#1a0000" stroke-width="0.85"/>
<rect x="332.8" y="532.34" width="3.04" height="104.16" fill="#ff0000" stroke="#1a0000" stroke-width="0.85"/>
<rect x="335.84" y="539.45" width="3.04" height="97.05" fill="#ff0000" stroke="#1a0000" stroke-width="0.85"/>
<rect x="338.88" y="548.24" width="3.04" height="88.26" fill="#ff0000" stroke="#1a0000" stroke-width="0.85"/>
<rect x="341.92" y="557.21" width="3.04" height="79.29" fill="#ff0000" stroke="#1a0000" stroke-width="0.85"/>
<rect x="344.96" y="566.94" width="3.04" height="69.56" fill="#ff0000" stroke="#1a0000" stroke-width="0.85"/>
<rect x="348" y="574.79" width="3.04" height="61.71" fill="#ff0000" stroke="#1a0000" stroke-width="0.85"/>
<rect x="351.05" y="582.83" width="3.04" height="53.67" fill="#ff0000" stroke="#1a0000" stroke-width="0.85"/>
<rect x="354.09" y="590.87" width="3.04" height="45.63" fill="#ff0000" stroke="#1a0000" stroke-width="0.85"/>
<rect x="357.13" y="597.04" width="3.04" height="39.46" fill="#ff0000" stroke="#1a0000" stroke-width="0.85"/>
<rect x="360.17" y="601.9" width="3.04" height="34.59" fill="#ff0000" stroke="#1a0000" stroke-width="0.85"/>
<rect x="363.21" y="605.64" width="3.04" height="30.86" fill="#ff0000" stroke="#1a0000" stroke-width="0.85"/>
<rect x="366.25" y="608.64" width="3.04" height="27.86" fill="#ff0000" stroke="#1a0000" stroke-width="0.85"/>
<rect x="369.29" y="612" width="3.04" height="24.5" fill="#ff0000" stroke="#1a0000" stroke-width="0.85"/>
<rect x="372.33" y="615.56" width="3.04" height="20.94" fill="#ff0000" stroke="#1a0000" stroke-width="0.85"/>
<rect x="375.38" y="619.67" width="3.04" height="16.83" fill="#ff0000" stroke="#1a0000" stroke-width="0.85"/>
<rect x="378.42" y="623.41" width="3.04" height="13.09" fill="#ff0000" stroke="#1a0000" stroke-width="0.85"/>
<rect x="381.46" y="626.4" width="3.04" height="10.1" fill="#ff0000" stroke="#1a0000" stroke-width="0.85"/>
<rect x="384.5" y="628.65" width="3.04" height="7.85" fill="#ff0000" stroke="#1a0000" stroke-width="0.85"/>
<rect x="387.54" y="630.33" width="3.04" height="6.17" fill="#ff0000" stroke="#1a0000" stroke-width="0.85"/>
<rect x="390.58" y="631.45" width="3.04" height="5.05" fill="#ff0000" stroke="#1a0000" stroke-width="0.85"/>
<rect x="393.62" y="632.29" width="3.04" height="4.21" fill="#ff0000" stroke="#1a0000" stroke-width="0.85"/>
<rect x="396.66" y="632.76" width="3.04" height="3.74" fill="#ff0000" stroke="#1a0000" stroke-width="0.85"/>
<rect x="399.71" y="632.95" width="3.04" height="3.55" fill="#ff0000" stroke="#1a0000" stroke-width="0.85"/>
<rect x="402.75" y="633.23" width="3.04" height="3.27" fill="#ff0000" stroke="#1a0000" stroke-width="0.85"/>
<rect x="405.79" y="633.51" width="3.04" height="2.99" fill="#ff0000" stroke="#1a0000" stroke-width="0.85"/>
<rect x="408.83" y="633.7" width="3.04" height="2.81" fill="#ff0000" stroke="#1a0000" stroke-width="0.85"/>
<rect x="411.87" y="634.07" width="3.04" height="2.43" fill="#ff0000" stroke="#1a0000" stroke-width="0.85"/>
<rect x="414.91" y="634.44" width="3.04" height="2.06" fill="#ff0000" stroke="#1a0000" stroke-width="0.85"/>
<rect x="417.95" y="634.82" width="3.04" height="1.68" fill="#ff0000" stroke="#1a0000" stroke-width="0.85"/>
<rect x="420.99" y="635.19" width="3.04" height="1.31" fill="#ff0000" stroke="#1a0000" stroke-width="0.85"/>
<rect x="424.04" y="635.47" width="3.04" height="1.03" fill="#ff0000" stroke="#1a0000" stroke-width="0.85"/>
<rect x="427.08" y="635.66" width="3.04" height="0.84" fill="#ff0000" stroke="#1a0000" stroke-width="0.85"/>
<rect x="430.12" y="635.85" width="3.04" height="0.65" fill="#ff0000" stroke="#1a0000" stroke-width="0.85"/>
<rect x="433.16" y="635.94" width="3.04" height="0.56" fill="#ff0000" stroke="#1a0000" stroke-width="0.85"/>
<rect x="436.2" y="636.03" width="3.04" height="0.47" fill="#ff0000" stroke="#1a0000" stroke-width="0.85"/>
<rect x="439.24" y="636.13" width="3.04" height="0.37" fill="#ff0000" stroke="#1a0000" stroke-width="0.85"/>
<rect x="442.28" y="636.13" width="3.04" height="0.37" fill="#ff0000" stroke="#1a0000" stroke-width="0.85"/>
<rect x="445.32" y="636.13" width="3.04" height="0.37" fill="#ff0000" stroke="#1a0000" stroke-width="0.85"/>
<rect x="448.37" y="636.13" width="3.04" height="0.37" fill="#ff0000" stroke="#1a0000" stroke-width="0.85"/>
<rect x="451.41" y="636.06" width="3.04" height="0.44" fill="#ff0000" stroke="#1a0000" stroke-width="0.85"/>
<rect x="454.45" y="636" width="3.04" height="0.5" fill="#ff0000" stroke="#1a0000" stroke-width="0.85"/>
<rect x="457.49" y="635.94" width="3.04" height="0.56" fill="#ff0000" stroke="#1a0000" stroke-width="0.85"/>
<rect x="460.53" y="635.99" width="3.04" height="0.51" fill="#ff0000" stroke="#1a0000" stroke-width="0.85"/>
<rect x="463.57" y="636.03" width="3.04" height="0.47" fill="#ff0000" stroke="#1a0000" stroke-width="0.85"/>
<rect x="466.61" y="636.15" width="3.04" height="0.35" fill="#ff0000" stroke="#1a0000" stroke-width="0.85"/>
</g>
<path d="M288.7 467.35V636.5H532V467.35" fill="none" stroke="#000" stroke-width="1.7" stroke-linejoin="miter"/>
<path d="M288.7 636.5v4.6M319.11 636.5v4.6M349.52 636.5v4.6M379.94 636.5v4.6M410.35 636.5v4.6M440.76 636.5v4.6M471.18 636.5v4.6M501.59 636.5v4.6M532 636.5v4.6M288.7 636.5h-5M288.7 617.8h-5M288.7 599.1h-5M288.7 580.4h-5M288.7 561.7h-5M288.7 543h-5M288.7 524.3h-5M288.7 505.6h-5M288.7 486.9h-5M288.7 468.2h-5M532 636.5h5M532 602.84h5M532 569.18h5M532 535.52h5M532 501.86h5M532 468.2h5" fill="none" stroke="#000" stroke-width="1.5"/>
<g font-family="Liberation Sans, Arial, sans-serif" font-weight="bold" font-size="10.3" fill="#000">
<text x="288.7" y="652.1" text-anchor="middle">0</text>
<text x="319.11" y="652.1" text-anchor="middle">100</text>
<text x="349.52" y="652.1" text-anchor="middle">200</text>
<text x="379.94" y="652.1" text-anchor="middle">300</text>
<text x="410.35" y="652.1" text-anchor="middle">400</text>
<text x="440.76" y="652.1" text-anchor="middle">500</text>
<text x="471.18" y="652.1" text-anchor="middle">600</text>
<text x="501.59" y="652.1" text-anchor="middle">700</text>
<text x="532" y="652.1" text-anchor="middle">800</text>
<text x="283.1" y="639.95" text-anchor="end">0</text>
<text x="283.1" y="621.25" text-anchor="end">10</text>
<text x="283.1" y="602.55" text-anchor="end">20</text>
<text x="283.1" y="583.85" text-anchor="end">30</text>
<text x="283.1" y="565.15" text-anchor="end">40</text>
<text x="283.1" y="546.45" text-anchor="end">50</text>
<text x="283.1" y="527.75" text-anchor="end">60</text>
<text x="283.1" y="509.05" text-anchor="end">70</text>
<text x="283.1" y="490.35" text-anchor="end">80</text>
<text x="283.1" y="471.65" text-anchor="end">90</text>
<text x="539" y="639.95">0</text>
<text x="539" y="606.29">2</text>
<text x="539" y="572.63">4</text>
<text x="539" y="538.97">6</text>
<text x="539" y="505.31">8</text>
<text x="539" y="471.65">10</text>
</g>
<text font-family="Liberation Sans, Arial, sans-serif" font-weight="bold" font-size="12.1" text-anchor="middle" transform="translate(257.8 552.05) rotate(-90)">NTA particles E6/ml</text>
<text font-family="Liberation Sans, Arial, sans-serif" font-weight="bold" font-size="12" text-anchor="middle" transform="translate(563.6 551.35) rotate(90)">DLS intensity (%)</text>
<text font-family="Liberation Sans, Arial, sans-serif" font-weight="bold" font-size="12" text-anchor="middle" x="410.35" y="674.8">Size (nm)</text>
<rect x="429.3" y="500.6" width="5.6" height="9.8" fill="#fff"/><rect x="429.3" y="500.6" width="5.6" height="9.8" fill="url(#hatch)"/>
<rect x="429.8" y="516.4" width="4.8" height="10" fill="#ff0000" stroke="#300" stroke-width="0.8"/>
<text font-family="Liberation Sans, Arial, sans-serif" font-size="12" x="449.2" y="509.6">DLS</text>
<text font-family="Liberation Sans, Arial, sans-serif" font-size="12" x="449.2" y="525.4">NTA</text>
</g>
<g id="p3a" clip-path="url(#clip-3a)">
<rect x="592.6" y="16.5" width="226.4" height="192.6" fill="#000"/>
<polygon points="612,116.7 733.5,116.7 790.6,164.4 634.9,179" fill="#0303fb"/>
<g clip-path="url(#cpA)">
<ellipse cx="652" cy="150" rx="15" ry="8" fill="#000050" opacity="0.4" filter="url(#b2)"/>
<ellipse cx="668" cy="163" rx="12" ry="6" fill="#000050" opacity="0.35" filter="url(#b2)"/>
</g>
<path d="M733.5 116.7L790.6 164.4" fill="none" stroke="#e8e8e8" stroke-width="1"/>
<g clip-path="url(#cpA)">
<path d="M668 166C668.67 164.17 670.4 158.67 672 155C673.6 151.33 675.75 147.68 677.6 144C679.45 140.32 681.27 136.6 683.1 132.9C684.93 129.2 686.77 125.85 688.6 121.8C690.43 117.75 692.07 113.02 694.1 108.6C696.13 104.18 698.58 99.55 700.8 95.3C703.02 91.05 705.18 87.15 707.4 83.1C709.62 79.05 712.07 74.32 714.1 71C716.13 67.68 717.95 65.05 719.6 63.2C721.25 61.35 722.72 60.63 724 59.9C725.28 59.17 726.02 58.8 727.3 58.8C728.58 58.8 730.3 58.98 731.7 59.9C733.1 60.82 734.7 62.45 735.7 64.3C736.7 66.15 737.18 67.68 737.7 71C738.22 74.32 738.5 79.05 738.8 84.2C739.1 89.35 739.32 96.37 739.5 101.9C739.68 107.43 739.72 112.97 739.9 117.4C740.08 121.83 740.18 124.82 740.6 128.5C741.02 132.18 741.67 136.18 742.4 139.5C743.13 142.82 743.83 145.82 745 148.4C746.17 150.98 747.57 152.9 749.4 155C751.23 157.1 753.9 159.07 756 161C758.1 162.93 761 165.67 762 166.6L762 168L668 177Z" fill="#3a0078" filter="url(#b7)" opacity="0.9" transform="translate(-12 2)"/>
<path d="M668 166C668.67 164.17 670.4 158.67 672 155C673.6 151.33 675.75 147.68 677.6 144C679.45 140.32 681.27 136.6 683.1 132.9C684.93 129.2 686.77 125.85 688.6 121.8C690.43 117.75 692.07 113.02 694.1 108.6C696.13 104.18 698.58 99.55 700.8 95.3C703.02 91.05 705.18 87.15 707.4 83.1C709.62 79.05 712.07 74.32 714.1 71C716.13 67.68 717.95 65.05 719.6 63.2C721.25 61.35 722.72 60.63 724 59.9C725.28 59.17 726.02 58.8 727.3 58.8C728.58 58.8 730.3 58.98 731.7 59.9C733.1 60.82 734.7 62.45 735.7 64.3C736.7 66.15 737.18 67.68 737.7 71C738.22 74.32 738.5 79.05 738.8 84.2C739.1 89.35 739.32 96.37 739.5 101.9C739.68 107.43 739.72 112.97 739.9 117.4C740.08 121.83 740.18 124.82 740.6 128.5C741.02 132.18 741.67 136.18 742.4 139.5C743.13 142.82 743.83 145.82 745 148.4C746.17 150.98 747.57 152.9 749.4 155C751.23 157.1 753.9 159.07 756 161C758.1 162.93 761 165.67 762 166.6L762 168L668 177Z" fill="#d80040" filter="url(#b3)" transform="translate(-3 0)"/>
<path d="M668 166C668.67 164.17 670.4 158.67 672 155C673.6 151.33 675.75 147.68 677.6 144C679.45 140.32 681.27 136.6 683.1 132.9C684.93 129.2 686.77 125.85 688.6 121.8C690.43 117.75 692.07 113.02 694.1 108.6C696.13 104.18 698.58 99.55 700.8 95.3C703.02 91.05 705.18 87.15 707.4 83.1C709.62 79.05 712.07 74.32 714.1 71C716.13 67.68 717.95 65.05 719.6 63.2C721.25 61.35 722.72 60.63 724 59.9C725.28 59.17 726.02 58.8 727.3 58.8C728.58 58.8 730.3 58.98 731.7 59.9C733.1 60.82 734.7 62.45 735.7 64.3C736.7 66.15 737.18 67.68 737.7 71C738.22 74.32 738.5 79.05 738.8 84.2C739.1 89.35 739.32 96.37 739.5 101.9C739.68 107.43 739.72 112.97 739.9 117.4C740.08 121.83 740.18 124.82 740.6 128.5C741.02 132.18 741.67 136.18 742.4 139.5C743.13 142.82 743.83 145.82 745 148.4C746.17 150.98 747.57 152.9 749.4 155C751.23 157.1 753.9 159.07 756 161C758.1 162.93 761 165.67 762 166.6L762 168L668 177Z" fill="#ff0010" filter="url(#b3)" transform="translate(3 0)"/>
</g>
<g mask="url(#mA)">
<path d="M668 166C668.67 164.17 670.4 158.67 672 155C673.6 151.33 675.75 147.68 677.6 144C679.45 140.32 681.27 136.6 683.1 132.9C684.93 129.2 686.77 125.85 688.6 121.8C690.43 117.75 692.07 113.02 694.1 108.6C696.13 104.18 698.58 99.55 700.8 95.3C703.02 91.05 705.18 87.15 707.4 83.1C709.62 79.05 712.07 74.32 714.1 71C716.13 67.68 717.95 65.05 719.6 63.2C721.25 61.35 722.72 60.63 724 59.9C725.28 59.17 726.02 58.8 727.3 58.8C728.58 58.8 730.3 58.98 731.7 59.9C733.1 60.82 734.7 62.45 735.7 64.3C736.7 66.15 737.18 67.68 737.7 71C738.22 74.32 738.5 79.05 738.8 84.2C739.1 89.35 739.32 96.37 739.5 101.9C739.68 107.43 739.72 112.97 739.9 117.4C740.08 121.83 740.18 124.82 740.6 128.5C741.02 132.18 741.67 136.18 742.4 139.5C743.13 142.82 743.83 145.82 745 148.4C746.17 150.98 747.57 152.9 749.4 155C751.23 157.1 753.9 159.07 756 161C758.1 162.93 761 165.67 762 166.6L762 168L668 177Z" fill="#ff0000" clip-path="url(#cpA2)"/>
<path d="M675.02 157.2C675.89 155.54 678.53 150.57 680.26 147.23C682 143.89 683.7 140.52 685.42 137.17C687.13 133.81 688.85 130.78 690.57 127.1C692.28 123.43 693.81 119.14 695.72 115.14C697.62 111.13 699.92 106.93 701.99 103.08C704.07 99.22 706.1 95.69 708.18 92.02C710.25 88.34 712.55 84.05 714.45 81.04C716.36 78.04 718.06 75.65 719.6 73.97C721.15 72.3 722.52 71.65 723.73 70.98C724.93 70.32 725.57 69.98 726.82 69.98C728.07 69.98 729.82 70.15 731.22 70.98C732.62 71.81 734.22 73.29 735.22 74.97C736.22 76.65 736.7 78.04 737.22 81.04C737.73 84.05 738.02 88.34 738.32 93.01C738.62 97.68 738.83 104.04 739.02 109.06C739.2 114.08 739.23 119.09 739.42 123.11C739.6 127.13 739.7 129.84 740.12 133.18C740.53 136.52 741.18 140.14 741.92 143.15C742.65 146.16 743.35 148.88 744.52 151.22C745.68 153.56 747.08 155.3 748.92 157.2C750.75 159.11 754.42 161.74 755.52 162.64L755.52 180L675.02 180Z" fill="url(#slM)" clip-path="url(#cpA2)"/>
<path d="M678.04 159.41C678.85 157.92 681.31 153.46 682.93 150.46C684.54 147.47 686.13 144.44 687.73 141.43C689.33 138.43 690.93 135.7 692.54 132.41C694.14 129.11 695.56 125.26 697.34 121.67C699.11 118.08 701.25 114.31 703.19 110.85C705.13 107.4 707.02 104.22 708.95 100.93C710.89 97.64 713.03 93.79 714.81 91.09C716.58 88.39 718.17 86.25 719.61 84.75C721.05 83.24 722.33 82.66 723.45 82.06C724.57 81.46 725.12 81.17 726.33 81.17C727.55 81.17 729.33 81.32 730.73 82.06C732.13 82.81 733.73 84.14 734.73 85.64C735.73 87.14 736.22 88.39 736.73 91.09C737.25 93.79 737.53 97.64 737.83 101.83C738.13 106.01 738.35 111.72 738.53 116.22C738.72 120.72 738.75 125.22 738.93 128.83C739.12 132.43 739.22 134.86 739.63 137.86C740.05 140.85 740.7 144.11 741.43 146.8C742.17 149.5 742.87 151.94 744.03 154.04C745.2 156.14 746.6 157.7 748.43 159.41C750.27 161.12 753.93 163.48 755.03 164.29L755.03 180L678.04 180Z" fill="url(#slM)" clip-path="url(#cpA2)"/>
<path d="M681.06 161.61C681.81 160.29 684.09 156.35 685.59 153.69C687.09 151.04 688.56 148.37 690.05 145.7C691.53 143.04 693.02 140.63 694.5 137.71C695.99 134.79 697.31 131.39 698.96 128.21C700.61 125.03 702.59 121.69 704.38 118.63C706.18 115.57 707.94 112.76 709.73 109.85C711.53 106.93 713.51 103.52 715.16 101.13C716.81 98.75 718.28 96.85 719.61 95.52C720.95 94.19 722.14 93.67 723.18 93.14C724.22 92.61 724.67 92.35 725.85 92.35C727.03 92.35 728.85 92.48 730.25 93.14C731.65 93.8 733.25 94.98 734.25 96.31C735.25 97.64 735.73 98.75 736.25 101.13C736.77 103.52 737.05 106.93 737.35 110.64C737.65 114.35 737.87 119.4 738.05 123.38C738.23 127.37 738.27 131.35 738.45 134.54C738.63 137.73 738.73 139.88 739.15 142.53C739.57 145.19 740.22 148.07 740.95 150.45C741.68 152.84 742.38 155 743.55 156.86C744.72 158.72 746.12 160.1 747.95 161.61C749.78 163.13 753.45 165.21 754.55 165.93L754.55 180L681.06 180Z" fill="url(#slM)" clip-path="url(#cpA2)"/>
<path d="M684.08 163.82C684.77 162.67 686.88 159.23 688.26 156.93C689.64 154.62 691 152.29 692.36 149.97C693.73 147.65 695.1 145.55 696.47 143.01C697.84 140.48 699.06 137.51 700.58 134.74C702.1 131.97 703.92 129.07 705.58 126.41C707.24 123.74 708.85 121.3 710.51 118.76C712.16 116.22 713.99 113.26 715.51 111.18C717.03 109.1 718.39 107.45 719.62 106.29C720.85 105.13 721.94 104.68 722.9 104.22C723.86 103.76 724.22 103.53 725.37 103.53C726.51 103.53 728.37 103.65 729.77 104.22C731.17 104.8 732.77 105.82 733.77 106.98C734.77 108.14 735.25 109.1 735.77 111.18C736.28 113.26 736.57 116.22 736.87 119.45C737.17 122.68 737.38 127.08 737.57 130.54C737.75 134.01 737.78 137.48 737.97 140.26C738.15 143.03 738.25 144.9 738.67 147.21C739.08 149.52 739.73 152.03 740.47 154.11C741.2 156.18 741.9 158.06 743.07 159.68C744.23 161.3 745.63 162.5 747.47 163.82C749.3 165.13 752.97 166.95 754.07 167.58L754.07 180L684.08 180Z" fill="url(#slM)" clip-path="url(#cpA2)"/>
<path d="M687.1 166.02C687.73 165.05 689.66 162.12 690.92 160.16C692.19 158.19 693.43 156.21 694.68 154.24C695.93 152.26 697.19 150.48 698.44 148.32C699.69 146.16 700.81 143.63 702.2 141.28C703.59 138.92 705.26 136.45 706.77 134.18C708.29 131.92 709.77 129.84 711.28 127.68C712.8 125.52 714.47 122.99 715.86 121.22C717.25 119.45 718.49 118.05 719.62 117.06C720.75 116.08 721.75 115.69 722.63 115.3C723.51 114.91 723.77 114.72 724.88 114.72C725.99 114.72 727.88 114.81 729.28 115.3C730.68 115.79 732.28 116.66 733.28 117.65C734.28 118.64 734.77 119.45 735.28 121.22C735.8 122.99 736.08 125.52 736.38 128.26C736.68 131.01 736.9 134.75 737.08 137.7C737.27 140.65 737.3 143.61 737.48 145.97C737.67 148.33 737.77 149.93 738.18 151.89C738.6 153.85 739.25 155.99 739.98 157.76C740.72 159.53 741.42 161.13 742.58 162.5C743.75 163.88 745.15 164.9 746.98 166.02C748.82 167.14 752.48 168.69 753.58 169.22L753.58 180L687.1 180Z" fill="url(#slM)" clip-path="url(#cpA2)"/>
<path d="M690.11 168.23C690.69 167.42 692.44 165.01 693.59 163.39C694.73 161.77 695.86 160.13 697 158.5C698.13 156.88 699.27 155.4 700.41 153.62C701.54 151.84 702.56 149.76 703.82 147.81C705.08 145.87 706.6 143.83 707.97 141.96C709.34 140.09 710.69 138.37 712.06 136.59C713.44 134.81 714.96 132.73 716.22 131.27C717.48 129.81 718.6 128.65 719.63 127.84C720.65 127.02 721.56 126.71 722.35 126.38C723.15 126.06 723.33 125.9 724.4 125.9C725.47 125.9 727.4 125.98 728.8 126.38C730.2 126.79 731.8 127.51 732.8 128.32C733.8 129.13 734.28 129.81 734.8 131.27C735.32 132.73 735.6 134.81 735.9 137.08C736.2 139.34 736.42 142.43 736.6 144.86C736.78 147.3 736.82 149.73 737 151.68C737.18 153.63 737.28 154.95 737.7 156.57C738.12 158.19 738.77 159.95 739.5 161.41C740.23 162.87 740.93 164.19 742.1 165.32C743.27 166.46 744.67 167.3 746.5 168.23C748.33 169.15 752 170.43 753.1 170.87L753.1 180L690.11 180Z" fill="url(#slF)" clip-path="url(#cpA2)"/>
</g>
<path d="M612 116.7L634.9 179L790.6 164.4" fill="none" stroke="#e8e8e8" stroke-width="1.1"/>
<g font-family="Liberation Sans, Arial, sans-serif" font-weight="bold" font-size="5.2" fill="#fff" text-anchor="middle">
<text transform="translate(636.9 186.6) rotate(-7)">0</text>
<text transform="translate(660.6 183.1) rotate(-7)">100</text>
<text transform="translate(684.1 180.8) rotate(-7)">200</text>
<text transform="translate(705.6 178.6) rotate(-7)">300</text>
<text transform="translate(725 176) rotate(-7)">400</text>
<text transform="translate(742.7 174.3) rotate(-7)">500</text>
<text transform="translate(759.3 173.1) rotate(-7)">600</text>
<text transform="translate(775.1 172.3) rotate(-7)">700</text>
<text transform="translate(789.4 170.8) rotate(-7)">800</text>
</g>
<text font-family="Liberation Sans, Arial, sans-serif" font-size="7.6" fill="#fff" textLength="57" lengthAdjust="spacingAndGlyphs" transform="translate(676.8 195.3) rotate(-7.1)" stroke="#fff" stroke-width="0.25">Particle Size (nm)</text>
<text font-family="Liberation Sans, Arial, sans-serif" font-size="10.5" fill="#fff" stroke="#fff" stroke-width="0.2" textLength="39" lengthAdjust="spacingAndGlyphs" transform="translate(617.6 180.6) rotate(-102)">Relative Intensity</text>
</g>
<g id="p3b" clip-path="url(#clip-3b)">
<rect x="592.6" y="234.5" width="226.4" height="192.7" fill="#000"/>
<polygon points="660,323.6 820,323.4 820,395.2 623.3,390.6" fill="#0303fb"/>
<path d="M820 323.6H660L623.3 390.6" fill="none" stroke="#e0e0e0" stroke-width="1"/>
<path d="M633.5 390.6C633.33 389.13 632.26 380.86 632 378C631.74 375.14 631.28 369.96 631.3 366.1C631.32 362.24 631.99 347.48 632.2 344.9C632.41 342.32 632.77 343.4 633.1 344C633.43 344.6 634.49 348.36 635 350C635.51 351.64 637.01 357.05 637.5 358.1C637.99 359.15 638.28 359.41 639.2 359C640.12 358.59 644.26 354.8 645.4 354.6C646.54 354.4 648.32 357.71 649 357.3C649.68 356.89 650.9 352.76 651.2 351.1C651.5 349.44 651.45 345.27 651.6 343.1C651.75 340.93 652.33 335.39 652.5 332.5C652.67 329.61 652.95 320.01 653.1 318.3C653.25 316.59 653.36 317.38 653.8 317.8C654.24 318.22 656.01 321.12 656.9 321.9C657.79 322.68 660.36 322.86 661.4 324.5C662.44 326.14 664.77 333.42 665.8 336C666.83 338.58 669.27 344.75 670.2 346.6C671.13 348.46 672.87 352.52 673.8 351.9C674.73 351.28 677.07 343.98 678.2 341.3C679.33 338.62 682.26 331.58 683.5 328.9C684.74 326.22 687.67 320.98 688.8 318.3C689.93 315.62 691.96 307.86 693.2 305.9C694.44 303.94 697.95 302.31 699.4 301.5C700.85 300.69 703.85 298.88 705.6 299C707.35 299.12 712.08 301.6 714.4 302.5C716.72 303.4 722.91 305.24 725.5 306.7C728.09 308.16 734.33 313.21 736.6 315C738.88 316.79 743.22 321.42 745 322C746.78 322.58 750.28 320.49 751.9 320C753.52 319.51 757.44 317.73 758.9 317.8C760.36 317.87 763.11 319.78 764.4 320.6C765.69 321.42 769.35 324.31 770 324.8L820 324L820 395.2L633.5 390.9Z" fill="url(#gB)"/>
<path d="M633.5 390.6C633.33 389.13 632.26 380.86 632 378C631.74 375.14 631.28 369.96 631.3 366.1C631.32 362.24 631.99 347.48 632.2 344.9C632.41 342.32 632.77 343.4 633.1 344C633.43 344.6 634.49 348.36 635 350C635.51 351.64 637.01 357.05 637.5 358.1C637.99 359.15 638.28 359.41 639.2 359C640.12 358.59 644.26 354.8 645.4 354.6C646.54 354.4 648.32 357.71 649 357.3C649.68 356.89 650.9 352.76 651.2 351.1C651.5 349.44 651.45 345.27 651.6 343.1C651.75 340.93 652.33 335.39 652.5 332.5C652.67 329.61 652.95 320.01 653.1 318.3C653.25 316.59 653.36 317.38 653.8 317.8C654.24 318.22 656.01 321.12 656.9 321.9C657.79 322.68 660.36 322.86 661.4 324.5C662.44 326.14 664.77 333.42 665.8 336C666.83 338.58 669.27 344.75 670.2 346.6C671.13 348.46 672.87 352.52 673.8 351.9C674.73 351.28 677.07 343.98 678.2 341.3C679.33 338.62 682.26 331.58 683.5 328.9C684.74 326.22 687.67 320.98 688.8 318.3C689.93 315.62 691.96 307.86 693.2 305.9C694.44 303.94 697.95 302.31 699.4 301.5C700.85 300.69 703.85 298.88 705.6 299C707.35 299.12 712.08 301.6 714.4 302.5C716.72 303.4 722.91 305.24 725.5 306.7C728.09 308.16 734.33 313.21 736.6 315C738.88 316.79 743.22 321.42 745 322C746.78 322.58 750.28 320.49 751.9 320C753.52 319.51 757.44 317.73 758.9 317.8C760.36 317.87 763.11 319.78 764.4 320.6C765.69 321.42 769.35 324.31 770 324.8L820 324L820 395.2L633.5 390.9Z" fill="url(#dkB)" mask="url(#mkB)"/>
<polygon points="660,323.6 820,323.4 820,395.2 623.3,390.6" fill="url(#ovB)"/>
<path d="M623.3 390.6L820 395.6" fill="none" stroke="#e0e0e0" stroke-width="1"/>
<g font-family="Liberation Sans, Arial, sans-serif" font-weight="bold" font-style="italic" font-size="5.4" fill="#fff" text-anchor="middle">
<text transform="translate(620.6 399.1) rotate(2)">0</text>
<text transform="translate(647.6 399.9) rotate(2)">100</text>
<text transform="translate(677.7 399.9) rotate(2)">200</text>
<text transform="translate(706 400.5) rotate(2)">300</text>
<text transform="translate(734.4 401.3) rotate(2)">400</text>
<text transform="translate(763.9 402.1) rotate(2)">500</text>
<text transform="translate(795 402.7) rotate(2)">600</text>
</g>
<text font-family="Liberation Sans, Arial, sans-serif" font-weight="bold" font-style="italic" font-size="8.4" fill="#fff" textLength="70" lengthAdjust="spacingAndGlyphs" transform="translate(668.3 413) rotate(2.6)">Particle Size (nm)</text>
<text font-family="Liberation Sans, Arial, sans-serif" font-size="8.4" fill="#fff" textLength="45" lengthAdjust="spacingAndGlyphs" transform="translate(605 391.5) rotate(-52.4)">Relative Intensity</text>
</g>
<g id="p3c" clip-path="url(#clip-3c)">
<rect x="592.6" y="460.1" width="226.4" height="193.6" fill="#000"/>
<polygon points="658.8,541.7 810.3,541.7 815.3,629.1 625.3,623.5" fill="#0303fb"/>
<path d="M625.3 623.5L658.8 541.7H810.3L815.3 629.1" fill="none" stroke="#e4e4e4" stroke-width="1"/>
<g clip-path="url(#cpC)"><path d="M662 574L676.9 578.8L684.9 589.4L692.9 596L701.5 600.5L712.5 610L721 620.5L727 627L652 626Z" fill="#e00030" filter="url(#b3)" transform="translate(6 -1)" opacity="0.9"/></g>
<path d="M641.3 623.8C641.27 623.28 641.23 622.01 641.1 619.9C640.97 617.79 640.54 611.72 640.3 608C640.06 604.28 639.73 596.96 639.3 592C638.87 587.04 637.74 576.45 637.1 570.8C636.46 565.15 635.27 554.91 634.5 549.6C633.73 544.29 632.18 535.95 631.3 531C630.42 526.05 628.71 517.1 627.9 512.5C627.09 507.9 625.39 500.22 625.2 496.5C625.01 492.78 625.79 486.36 626.5 484.6C627.21 482.84 629.43 483.13 630.5 483.3C631.57 483.47 633.26 484.14 634.5 485.9C635.74 487.66 638.39 493.49 639.8 496.5C641.21 499.51 643.69 505.31 645.1 508.5C646.51 511.69 648.99 517.04 650.4 520.4C651.81 523.76 654.1 529.98 655.7 533.7C657.3 537.42 660.63 544.41 662.4 548.3C664.17 552.19 667.07 558.83 669 562.9C670.93 566.97 674.78 575.27 676.9 578.8C679.02 582.33 682.77 587.11 684.9 589.4C687.03 591.69 690.69 594.52 692.9 596C695.11 597.48 698.89 598.63 701.5 600.5C704.11 602.37 709.9 607.33 712.5 610C715.1 612.67 719.07 618.23 721 620.5C722.93 622.77 726.2 626.13 727 627L641.3 624Z" fill="url(#gC2)"/>
<clipPath id="cpCred"><path d="M641.3 623.8C641.27 623.28 641.23 622.01 641.1 619.9C640.97 617.79 640.54 611.72 640.3 608C640.06 604.28 639.73 596.96 639.3 592C638.87 587.04 637.74 576.45 637.1 570.8C636.46 565.15 635.27 554.91 634.5 549.6C633.73 544.29 632.18 535.95 631.3 531C630.42 526.05 628.71 517.1 627.9 512.5C627.09 507.9 625.39 500.22 625.2 496.5C625.01 492.78 625.79 486.36 626.5 484.6C627.21 482.84 629.43 483.13 630.5 483.3C631.57 483.47 633.26 484.14 634.5 485.9C635.74 487.66 638.39 493.49 639.8 496.5C641.21 499.51 643.69 505.31 645.1 508.5C646.51 511.69 648.99 517.04 650.4 520.4C651.81 523.76 654.1 529.98 655.7 533.7C657.3 537.42 660.63 544.41 662.4 548.3C664.17 552.19 667.07 558.83 669 562.9C670.93 566.97 674.78 575.27 676.9 578.8C679.02 582.33 682.77 587.11 684.9 589.4C687.03 591.69 690.69 594.52 692.9 596C695.11 597.48 698.89 598.63 701.5 600.5C704.11 602.37 709.9 607.33 712.5 610C715.1 612.67 719.07 618.23 721 620.5C722.93 622.77 726.2 626.13 727 627L641.3 624Z"/></clipPath>
<g clip-path="url(#cpCred)" opacity="0.72"><path d="M636 574L646 578L655 588L666 626L636 628Z" fill="#000" filter="url(#b3)" opacity="0.85"/><path d="M638 590L648 596L657 627L638 628Z" fill="#000" filter="url(#b2)"/></g>
<polygon points="658.8,541.7 810.3,541.7 815.3,629.1 625.3,623.5" fill="url(#ovC)"/>
<path d="M625.3 623.5L815.3 629.1" fill="none" stroke="#e4e4e4" stroke-width="1"/>
<g font-family="Liberation Sans, Arial, sans-serif" font-weight="bold" font-size="5.4" fill="#fff" text-anchor="middle">
<text transform="translate(624 631.3) rotate(1.5)">0</text>
<text transform="translate(647.6 631.9) rotate(1.5)">100</text>
<text transform="translate(675.4 632.7) rotate(1.5)">200</text>
<text transform="translate(702.4 633.8) rotate(1.5)">300</text>
<text transform="translate(729.7 634.7) rotate(1.5)">400</text>
<text transform="translate(756.9 635.5) rotate(1.5)">500</text>
<text transform="translate(784.7 636.1) rotate(1.5)">600</text>
<text transform="translate(814.5 636.6) rotate(1.5)">700</text>
</g>
<text font-family="Liberation Sans, Arial, sans-serif" font-weight="bold" font-style="italic" font-size="8.6" fill="#fff" textLength="70.5" lengthAdjust="spacingAndGlyphs" transform="translate(673.8 646.4) rotate(1.1)">Particle Size (nm)</text>
<text font-family="Liberation Sans, Arial, sans-serif" font-size="8.6" fill="#fff" textLength="51" lengthAdjust="spacingAndGlyphs" transform="translate(609.5 623.8) rotate(-60.7)">Relative Intensity</text>
</g>
</svg>
</body></html>
